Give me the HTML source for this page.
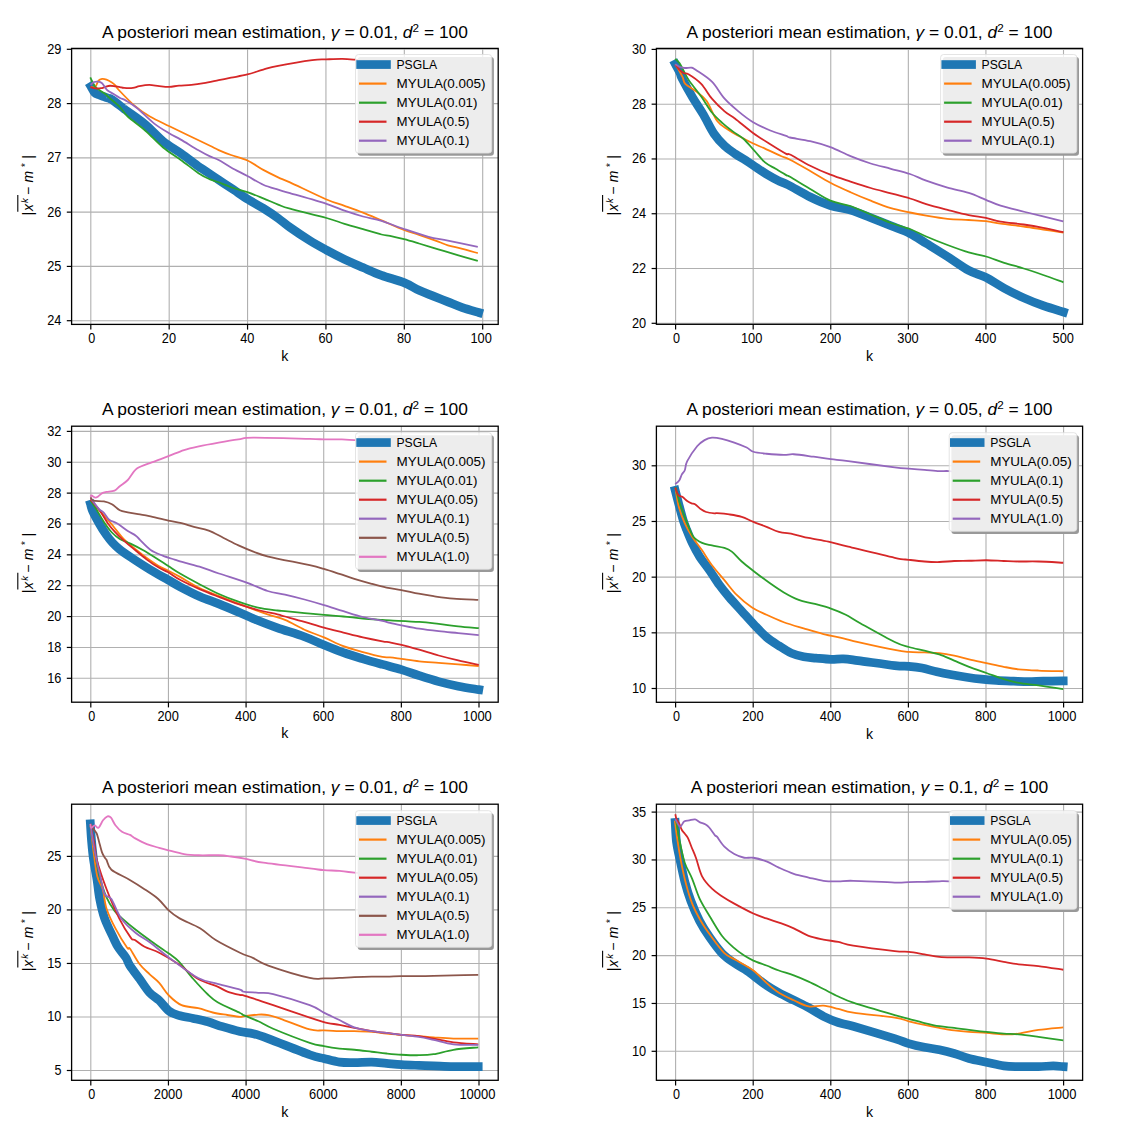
<!DOCTYPE html><html><head><meta charset="utf-8"><style>html,body{margin:0;padding:0;background:#fff;overflow:hidden;width:1140px;height:1130px;}svg text{font-family:"Liberation Sans",sans-serif;}</style></head><body><svg width="1140" height="1130" viewBox="0 0 1140 1130" style="display:block">
<rect width="1140" height="1130" fill="#fff"/>
<g font-family="'Liberation Sans', sans-serif" fill="#000">
<line x1="90.80" y1="48.4" x2="90.80" y2="324.4" stroke="#b0b0b0" stroke-width="1.1"/>
<line x1="169.18" y1="48.4" x2="169.18" y2="324.4" stroke="#b0b0b0" stroke-width="1.1"/>
<line x1="247.56" y1="48.4" x2="247.56" y2="324.4" stroke="#b0b0b0" stroke-width="1.1"/>
<line x1="325.94" y1="48.4" x2="325.94" y2="324.4" stroke="#b0b0b0" stroke-width="1.1"/>
<line x1="404.32" y1="48.4" x2="404.32" y2="324.4" stroke="#b0b0b0" stroke-width="1.1"/>
<line x1="482.70" y1="48.4" x2="482.70" y2="324.4" stroke="#b0b0b0" stroke-width="1.1"/>
<line x1="71.6" y1="320.70" x2="498.2" y2="320.70" stroke="#b0b0b0" stroke-width="1.1"/>
<line x1="71.6" y1="266.42" x2="498.2" y2="266.42" stroke="#b0b0b0" stroke-width="1.1"/>
<line x1="71.6" y1="212.14" x2="498.2" y2="212.14" stroke="#b0b0b0" stroke-width="1.1"/>
<line x1="71.6" y1="157.86" x2="498.2" y2="157.86" stroke="#b0b0b0" stroke-width="1.1"/>
<line x1="71.6" y1="103.58" x2="498.2" y2="103.58" stroke="#b0b0b0" stroke-width="1.1"/>
<line x1="71.6" y1="49.30" x2="498.2" y2="49.30" stroke="#b0b0b0" stroke-width="1.1"/>
<clipPath id="c0"><rect x="71.6" y="48.4" width="426.6" height="276.0"/></clipPath>
<g clip-path="url(#c0)" fill="none" stroke-linejoin="round">
<path d="M91.00,86.50 C91.65,87.58 93.60,91.62 94.90,93.00 C96.20,94.38 97.29,94.20 98.80,94.80 C100.31,95.40 102.08,95.91 103.96,96.59 C105.84,97.26 108.73,98.36 110.08,98.86 C111.42,99.36 109.62,97.87 112.03,99.59 C114.44,101.30 121.91,107.19 124.53,109.16 C127.14,111.13 124.22,108.85 127.70,111.40 C131.18,113.96 139.50,119.52 145.40,124.50 C151.30,129.48 157.20,136.50 163.10,141.30 C169.00,146.10 174.90,149.10 180.80,153.30 C186.70,157.50 194.67,163.74 198.50,166.50 C202.33,169.26 200.43,167.67 203.79,169.89 C207.15,172.10 213.71,176.49 218.66,179.80 C223.62,183.10 228.57,186.40 233.53,189.71 C238.48,193.01 243.44,196.52 248.40,199.62 C253.35,202.71 258.30,205.19 263.26,208.29 C268.21,211.39 273.67,215.02 278.12,218.20 C282.58,221.39 284.77,223.70 290.00,227.40 C295.23,231.10 303.42,236.62 309.50,240.40 C315.58,244.18 320.67,246.93 326.50,250.10 C332.33,253.27 338.42,256.48 344.50,259.40 C350.58,262.32 356.83,264.93 363.00,267.60 C369.17,270.27 374.67,272.90 381.50,275.40 C388.33,277.90 397.75,280.12 404.00,282.60 C410.25,285.08 414.10,288.04 419.00,290.29 C423.90,292.54 428.58,294.17 433.40,296.10 C438.22,298.03 443.07,299.97 447.90,301.90 C452.73,303.83 457.27,305.93 462.40,307.69 C467.54,309.46 475.98,311.70 478.70,312.50" stroke="#1f77b4" stroke-width="8.7" stroke-linecap="square" stroke-linejoin="round"/>
<path d="M91.00,86.80 C91.70,86.83 93.95,88.02 95.20,87.00 C96.45,85.98 97.36,82.03 98.50,80.69 C99.65,79.36 100.74,79.15 102.07,78.98 C103.40,78.82 104.83,79.11 106.47,79.69 C108.10,80.27 110.38,81.54 111.85,82.47 C113.33,83.40 114.15,84.03 115.31,85.29 C116.47,86.54 115.55,86.56 118.80,90.00 C122.05,93.44 129.62,101.48 134.80,105.90 C139.98,110.32 144.12,113.10 149.90,116.50 C155.68,119.90 162.88,123.05 169.50,126.30 C176.12,129.55 182.85,132.75 189.60,136.00 C196.35,139.25 205.16,143.46 210.00,145.80 C214.84,148.14 215.15,148.53 218.66,150.06 C222.17,151.60 226.26,153.28 231.05,155.02 C235.84,156.75 242.04,157.99 247.40,160.47 C252.77,162.95 258.14,167.08 263.26,169.89 C268.38,172.69 273.67,175.23 278.13,177.32 C282.58,179.40 281.94,178.70 290.00,182.40 C298.06,186.10 317.42,195.60 326.50,199.50 C335.58,203.40 338.42,203.62 344.50,205.80 C350.58,207.98 356.83,210.17 363.00,212.60 C369.17,215.03 374.67,217.50 381.50,220.40 C388.33,223.30 397.75,227.60 404.00,230.00 C410.25,232.40 413.28,232.87 419.00,234.80 C424.72,236.73 433.48,239.83 438.30,241.60 C443.12,243.37 443.88,244.20 447.90,245.40 C451.92,246.60 457.42,247.50 462.40,248.80 C467.38,250.10 475.23,252.47 477.80,253.20" stroke="#ff7f0e" stroke-width="1.8" stroke-linecap="butt" stroke-linejoin="round"/>
<path d="M90.30,77.40 C91.07,78.93 93.28,84.42 94.90,86.60 C96.52,88.78 98.16,89.17 100.01,90.49 C101.85,91.81 104.37,93.27 105.98,94.53 C107.58,95.79 107.38,96.00 109.64,98.03 C111.91,100.06 116.54,103.63 119.55,106.70 C122.56,109.78 123.39,112.50 127.70,116.50 C132.01,120.50 139.50,125.53 145.40,130.70 C151.30,135.87 157.20,142.63 163.10,147.50 C169.00,152.37 174.90,155.62 180.80,159.90 C186.70,164.18 193.63,169.95 198.50,173.20 C203.37,176.45 206.64,177.89 210.00,179.40 C213.36,180.91 215.15,180.97 218.66,182.27 C222.17,183.58 226.26,185.58 231.05,187.23 C235.84,188.88 242.04,190.33 247.40,192.18 C252.77,194.04 258.14,196.31 263.26,198.38 C268.38,200.44 273.67,202.85 278.13,204.57 C282.58,206.29 281.94,206.46 290.00,208.70 C298.06,210.94 317.42,215.48 326.50,218.00 C335.58,220.52 338.42,221.93 344.50,223.80 C350.58,225.67 356.83,227.42 363.00,229.20 C369.17,230.98 377.00,233.40 381.50,234.50 C386.00,235.60 386.25,235.02 390.00,235.80 C393.75,236.58 399.17,237.92 404.00,239.20 C408.83,240.48 413.28,241.82 419.00,243.50 C424.72,245.18 431.87,247.37 438.30,249.30 C444.73,251.23 451.02,253.17 457.60,255.10 C464.18,257.03 474.43,259.93 477.80,260.90" stroke="#2ca02c" stroke-width="1.8" stroke-linecap="butt" stroke-linejoin="round"/>
<path d="M90.30,87.00 C91.12,87.23 93.39,88.20 95.20,88.40 C97.01,88.60 99.56,88.45 101.17,88.23 C102.77,88.00 103.35,87.47 104.82,87.06 C106.29,86.65 108.25,85.90 110.01,85.77 C111.77,85.65 113.74,86.10 115.40,86.31 C117.06,86.53 118.54,86.78 119.99,87.05 C121.44,87.33 121.92,87.80 124.07,87.95 C126.23,88.10 130.37,88.26 132.92,87.96 C135.47,87.65 136.65,86.65 139.38,86.14 C142.10,85.63 145.98,84.90 149.29,84.90 C152.59,84.90 155.89,85.81 159.20,86.14 C162.50,86.47 165.80,86.96 169.11,86.88 C172.41,86.80 175.30,85.97 179.02,85.64 C182.74,85.31 187.28,85.31 191.41,84.90 C195.54,84.49 199.25,83.95 203.80,83.17 C208.34,82.38 214.12,81.10 218.66,80.19 C223.20,79.28 226.26,78.66 231.05,77.71 C235.84,76.76 242.04,75.86 247.40,74.49 C252.77,73.13 258.14,70.98 263.26,69.54 C268.38,68.09 269.97,67.39 278.13,65.82 C286.29,64.25 304.18,61.20 312.21,60.12 C320.24,59.05 321.38,59.59 326.33,59.38 C331.29,59.17 337.28,58.84 341.94,58.88 C346.61,58.93 346.22,58.91 354.33,59.63 C362.44,60.35 372.74,60.14 390.60,63.20 C408.46,66.26 446.18,74.87 461.50,78.00 C476.82,81.13 479.00,81.33 482.50,82.00" stroke="#d62728" stroke-width="1.8" stroke-linecap="butt" stroke-linejoin="round"/>
<path d="M90.60,84.90 C91.20,84.42 92.91,82.54 94.20,82.00 C95.49,81.46 97.10,81.51 98.36,81.68 C99.62,81.85 100.68,82.12 101.76,83.00 C102.84,83.88 103.86,85.73 104.84,86.97 C105.83,88.21 106.20,89.24 107.66,90.43 C109.12,91.62 111.54,92.84 113.60,94.10 C115.66,95.36 117.94,96.90 120.01,97.99 C122.07,99.07 123.23,98.98 126.00,100.60 C128.77,102.22 131.88,103.87 136.60,107.70 C141.32,111.53 148.82,119.32 154.30,123.60 C159.78,127.88 165.08,130.73 169.50,133.40 C173.92,136.07 175.97,136.80 180.80,139.60 C185.63,142.40 193.63,147.40 198.50,150.20 C203.37,153.00 206.64,154.77 210.00,156.40 C213.36,158.03 215.15,158.14 218.66,159.97 C222.17,161.81 226.26,164.72 231.05,167.41 C235.84,170.09 242.04,173.19 247.40,176.08 C252.77,178.97 258.14,182.48 263.26,184.75 C268.38,187.02 273.67,188.32 278.13,189.71 C282.58,191.10 281.94,190.73 290.00,193.10 C298.06,195.47 317.42,200.97 326.50,203.90 C335.58,206.83 338.42,208.60 344.50,210.70 C350.58,212.80 356.83,214.80 363.00,216.50 C369.17,218.20 374.67,218.82 381.50,220.90 C388.33,222.98 396.15,226.35 404.00,229.00 C411.85,231.65 421.28,234.87 428.60,236.80 C435.92,238.73 439.70,238.92 447.90,240.60 C456.10,242.28 472.82,245.85 477.80,246.90" stroke="#9467bd" stroke-width="1.8" stroke-linecap="butt" stroke-linejoin="round"/>
</g>
<rect x="71.6" y="48.4" width="426.6" height="276.0" fill="none" stroke="#000" stroke-width="1.3"/>
<line x1="90.80" y1="324.4" x2="90.80" y2="329.59999999999997" stroke="#000" stroke-width="1.2"/>
<text x="91.7" y="342.9" font-size="14.2" text-anchor="middle" textLength="7.0" lengthAdjust="spacingAndGlyphs">0</text>
<line x1="169.18" y1="324.4" x2="169.18" y2="329.59999999999997" stroke="#000" stroke-width="1.2"/>
<text x="168.9" y="342.9" font-size="14.2" text-anchor="middle" textLength="14.2" lengthAdjust="spacingAndGlyphs">20</text>
<line x1="247.56" y1="324.4" x2="247.56" y2="329.59999999999997" stroke="#000" stroke-width="1.2"/>
<text x="247.3" y="342.9" font-size="14.2" text-anchor="middle" textLength="14.2" lengthAdjust="spacingAndGlyphs">40</text>
<line x1="325.94" y1="324.4" x2="325.94" y2="329.59999999999997" stroke="#000" stroke-width="1.2"/>
<text x="325.6" y="342.9" font-size="14.2" text-anchor="middle" textLength="14.2" lengthAdjust="spacingAndGlyphs">60</text>
<line x1="404.32" y1="324.4" x2="404.32" y2="329.59999999999997" stroke="#000" stroke-width="1.2"/>
<text x="404.0" y="342.9" font-size="14.2" text-anchor="middle" textLength="14.2" lengthAdjust="spacingAndGlyphs">80</text>
<line x1="482.70" y1="324.4" x2="482.70" y2="329.59999999999997" stroke="#000" stroke-width="1.2"/>
<text x="481.1" y="342.9" font-size="14.2" text-anchor="middle" textLength="21.4" lengthAdjust="spacingAndGlyphs">100</text>
<line x1="66.8" y1="320.70" x2="71.6" y2="320.70" stroke="#000" stroke-width="1.2"/>
<text x="61.4" y="325.1" font-size="14.2" text-anchor="end" textLength="14.2" lengthAdjust="spacingAndGlyphs">24</text>
<line x1="66.8" y1="266.42" x2="71.6" y2="266.42" stroke="#000" stroke-width="1.2"/>
<text x="61.4" y="270.8" font-size="14.2" text-anchor="end" textLength="14.2" lengthAdjust="spacingAndGlyphs">25</text>
<line x1="66.8" y1="212.14" x2="71.6" y2="212.14" stroke="#000" stroke-width="1.2"/>
<text x="61.4" y="216.5" font-size="14.2" text-anchor="end" textLength="14.2" lengthAdjust="spacingAndGlyphs">26</text>
<line x1="66.8" y1="157.86" x2="71.6" y2="157.86" stroke="#000" stroke-width="1.2"/>
<text x="61.4" y="162.3" font-size="14.2" text-anchor="end" textLength="14.2" lengthAdjust="spacingAndGlyphs">27</text>
<line x1="66.8" y1="103.58" x2="71.6" y2="103.58" stroke="#000" stroke-width="1.2"/>
<text x="61.4" y="108.0" font-size="14.2" text-anchor="end" textLength="14.2" lengthAdjust="spacingAndGlyphs">28</text>
<line x1="66.8" y1="49.30" x2="71.6" y2="49.30" stroke="#000" stroke-width="1.2"/>
<text x="61.4" y="53.7" font-size="14.2" text-anchor="end" textLength="14.2" lengthAdjust="spacingAndGlyphs">29</text>
<text x="284.9" y="360.6" font-size="14.2" text-anchor="middle">k</text>
<text transform="translate(32.75,215.50) rotate(-90)" x="0" y="0" font-size="14">|</text>
<text transform="translate(32.75,211.10) rotate(-90)" x="0" y="0" font-size="14" font-style="italic">x</text>
<text transform="translate(28.15,203.00) rotate(-90)" x="0" y="0" font-size="9.5" font-style="italic">k</text>
<text transform="translate(32.75,194.90) rotate(-90)" x="0" y="0" font-size="14">−</text>
<text transform="translate(32.75,182.40) rotate(-90)" x="0" y="0" font-size="14" font-style="italic">m</text>
<text transform="translate(28.75,167.10) rotate(-90)" x="0" y="0" font-size="10">*</text>
<text transform="translate(32.75,158.80) rotate(-90)" x="0" y="0" font-size="14">|</text>
<line x1="17.80" y1="195.00" x2="17.80" y2="211.70" stroke="#000" stroke-width="1.1"/>
<text x="284.9" y="37.6" font-size="15.6" text-anchor="middle" textLength="366" lengthAdjust="spacingAndGlyphs">A posteriori mean estimation, <tspan font-style="italic">γ</tspan> = 0.01, <tspan font-style="italic">d</tspan><tspan font-size="10.5" dy="-6">2</tspan><tspan dy="6"> = 100</tspan></text>
<rect x="357.7" y="57.1" width="136.2" height="98.6" rx="3" fill="#999"/>
<rect x="355.5" y="54.5" width="136.2" height="98.6" rx="3" fill="#fff" fill-opacity="0.82" stroke="#ddd" stroke-width="0.8"/>
<rect x="356.3" y="60.2" width="34.5" height="8.7" fill="#1f77b4"/>
<text x="396.5" y="69.0" font-size="13.2" text-anchor="start" textLength="40.5" lengthAdjust="spacingAndGlyphs">PSGLA</text>
<line x1="359.0" y1="83.6" x2="386.5" y2="83.6" stroke="#ff7f0e" stroke-width="2.2"/>
<text x="396.5" y="88.0" font-size="13.2" text-anchor="start" textLength="89.0" lengthAdjust="spacingAndGlyphs">MYULA(0.005)</text>
<line x1="359.0" y1="102.7" x2="386.5" y2="102.7" stroke="#2ca02c" stroke-width="2.2"/>
<text x="396.5" y="107.1" font-size="13.2" text-anchor="start" textLength="81.0" lengthAdjust="spacingAndGlyphs">MYULA(0.01)</text>
<line x1="359.0" y1="121.7" x2="386.5" y2="121.7" stroke="#d62728" stroke-width="2.2"/>
<text x="396.5" y="126.1" font-size="13.2" text-anchor="start" textLength="73.0" lengthAdjust="spacingAndGlyphs">MYULA(0.5)</text>
<line x1="359.0" y1="140.7" x2="386.5" y2="140.7" stroke="#9467bd" stroke-width="2.2"/>
<text x="396.5" y="145.1" font-size="13.2" text-anchor="start" textLength="73.0" lengthAdjust="spacingAndGlyphs">MYULA(0.1)</text>
</g>
<g font-family="'Liberation Sans', sans-serif" fill="#000">
<line x1="675.60" y1="48.4" x2="675.60" y2="324.3" stroke="#b0b0b0" stroke-width="1.1"/>
<line x1="753.18" y1="48.4" x2="753.18" y2="324.3" stroke="#b0b0b0" stroke-width="1.1"/>
<line x1="830.76" y1="48.4" x2="830.76" y2="324.3" stroke="#b0b0b0" stroke-width="1.1"/>
<line x1="908.34" y1="48.4" x2="908.34" y2="324.3" stroke="#b0b0b0" stroke-width="1.1"/>
<line x1="985.92" y1="48.4" x2="985.92" y2="324.3" stroke="#b0b0b0" stroke-width="1.1"/>
<line x1="1063.50" y1="48.4" x2="1063.50" y2="324.3" stroke="#b0b0b0" stroke-width="1.1"/>
<line x1="656.4" y1="323.30" x2="1082.6" y2="323.30" stroke="#b0b0b0" stroke-width="1.1"/>
<line x1="656.4" y1="268.52" x2="1082.6" y2="268.52" stroke="#b0b0b0" stroke-width="1.1"/>
<line x1="656.4" y1="213.74" x2="1082.6" y2="213.74" stroke="#b0b0b0" stroke-width="1.1"/>
<line x1="656.4" y1="158.96" x2="1082.6" y2="158.96" stroke="#b0b0b0" stroke-width="1.1"/>
<line x1="656.4" y1="104.18" x2="1082.6" y2="104.18" stroke="#b0b0b0" stroke-width="1.1"/>
<line x1="656.4" y1="49.40" x2="1082.6" y2="49.40" stroke="#b0b0b0" stroke-width="1.1"/>
<clipPath id="c1"><rect x="656.4" y="48.4" width="426.19999999999993" height="275.90000000000003"/></clipPath>
<g clip-path="url(#c1)" fill="none" stroke-linejoin="round">
<path d="M675.30,64.00 C676.08,65.50 678.86,70.58 680.00,73.00 C681.14,75.42 679.99,74.40 682.11,78.50 C684.23,82.60 689.15,91.58 692.70,97.60 C696.25,103.62 699.85,108.58 703.40,114.60 C706.95,120.62 710.46,128.49 714.00,133.70 C717.54,138.91 721.08,142.52 724.62,145.88 C728.16,149.24 731.70,151.45 735.23,153.86 C738.75,156.27 742.24,158.02 745.78,160.32 C749.33,162.63 752.95,165.32 756.51,167.69 C760.06,170.06 763.58,172.44 767.12,174.57 C770.66,176.69 774.20,178.70 777.73,180.44 C781.26,182.18 782.89,182.24 788.30,185.00 C793.71,187.76 803.18,193.58 810.20,197.00 C817.22,200.42 823.68,203.30 830.40,205.50 C837.12,207.70 843.78,208.15 850.50,210.20 C857.22,212.25 863.97,215.20 870.70,217.80 C877.43,220.40 884.35,223.18 890.90,225.80 C897.45,228.42 904.12,230.57 910.00,233.50 C915.88,236.43 919.95,239.55 926.20,243.40 C932.45,247.25 940.42,252.10 947.50,256.60 C954.58,261.10 962.30,266.93 968.70,270.40 C975.10,273.87 979.98,274.43 985.90,277.40 C991.82,280.37 997.90,284.78 1004.20,288.20 C1010.50,291.62 1017.20,294.98 1023.70,297.90 C1030.20,300.82 1036.58,303.35 1043.20,305.70 C1049.82,308.05 1060.03,310.95 1063.40,312.00" stroke="#1f77b4" stroke-width="8.7" stroke-linecap="square" stroke-linejoin="round"/>
<path d="M675.20,64.60 C675.72,65.33 677.05,66.87 678.30,69.00 C679.55,71.13 681.53,74.93 682.70,77.40 C683.87,79.87 683.10,81.50 685.30,83.80 C687.50,86.10 692.37,88.37 695.90,91.20 C699.43,94.03 702.95,95.83 706.50,100.80 C710.05,105.77 713.65,116.22 717.20,121.00 C720.75,125.78 724.27,127.03 727.80,129.50 C731.33,131.97 734.25,133.50 738.40,135.80 C742.55,138.10 748.27,141.17 752.70,143.30 C757.13,145.43 760.30,146.48 765.00,148.60 C769.70,150.72 776.73,154.13 780.90,156.00 C785.07,157.87 785.12,157.30 790.00,159.80 C794.88,162.30 803.47,167.18 810.20,171.00 C816.93,174.82 823.68,179.17 830.40,182.70 C837.12,186.23 843.78,189.20 850.50,192.20 C857.22,195.20 863.97,198.05 870.70,200.70 C877.43,203.35 884.35,206.13 890.90,208.10 C897.45,210.07 904.12,211.23 910.00,212.50 C915.88,213.77 919.95,214.63 926.20,215.70 C932.45,216.77 940.42,218.18 947.50,218.90 C954.58,219.62 962.30,219.63 968.70,220.00 C975.10,220.37 980.58,220.48 985.90,221.10 C991.22,221.72 994.30,222.80 1000.60,223.70 C1006.90,224.60 1016.60,225.53 1023.70,226.50 C1030.80,227.47 1036.58,228.47 1043.20,229.50 C1049.82,230.53 1060.03,232.17 1063.40,232.70" stroke="#ff7f0e" stroke-width="1.8" stroke-linecap="butt" stroke-linejoin="round"/>
<path d="M675.20,58.80 C675.93,59.55 677.62,60.20 679.60,63.30 C681.58,66.40 685.27,74.17 687.10,77.40 C688.93,80.63 688.25,79.52 690.60,82.70 C692.95,85.88 697.65,91.53 701.20,96.50 C704.75,101.47 708.35,108.07 711.90,112.50 C715.45,116.93 718.97,119.92 722.50,123.10 C726.03,126.28 729.57,128.95 733.10,131.60 C736.63,134.25 740.17,135.82 743.70,139.00 C747.23,142.18 750.75,146.80 754.30,150.70 C757.85,154.60 761.45,159.38 765.00,162.40 C768.55,165.42 772.07,166.68 775.60,168.80 C779.13,170.92 783.80,173.77 786.20,175.10 C788.60,176.43 786.00,174.48 790.00,176.80 C794.00,179.12 803.47,185.02 810.20,189.00 C816.93,192.98 823.68,197.87 830.40,200.70 C837.12,203.53 843.78,203.70 850.50,206.00 C857.22,208.30 863.97,211.67 870.70,214.50 C877.43,217.33 884.35,220.58 890.90,223.00 C897.45,225.42 904.12,226.75 910.00,229.00 C915.88,231.25 919.95,233.83 926.20,236.50 C932.45,239.17 940.42,242.35 947.50,245.00 C954.58,247.65 962.30,250.48 968.70,252.40 C975.10,254.32 979.98,254.77 985.90,256.50 C991.82,258.23 997.90,260.80 1004.20,262.80 C1010.50,264.80 1017.20,266.47 1023.70,268.50 C1030.20,270.53 1036.58,272.70 1043.20,275.00 C1049.82,277.30 1060.03,281.08 1063.40,282.30" stroke="#2ca02c" stroke-width="1.8" stroke-linecap="butt" stroke-linejoin="round"/>
<path d="M675.20,64.60 C675.93,65.48 678.18,68.46 679.60,69.90 C681.02,71.34 682.24,72.52 683.72,73.24 C685.20,73.96 685.59,72.44 688.50,74.20 C691.41,75.96 697.30,79.72 701.20,83.80 C705.10,87.88 708.00,94.10 711.90,98.70 C715.80,103.30 720.72,108.05 724.60,111.40 C728.48,114.75 730.52,115.25 735.20,118.80 C739.88,122.35 746.85,128.45 752.70,132.70 C758.55,136.95 764.72,140.77 770.30,144.30 C775.88,147.83 782.92,152.20 786.20,153.90 C789.48,155.60 786.00,152.53 790.00,154.50 C794.00,156.47 803.47,162.33 810.20,165.70 C816.93,169.07 823.68,172.05 830.40,174.70 C837.12,177.35 843.78,179.38 850.50,181.60 C857.22,183.82 863.97,186.05 870.70,188.00 C877.43,189.95 884.35,191.55 890.90,193.30 C897.45,195.05 904.12,196.70 910.00,198.50 C915.88,200.30 919.95,202.20 926.20,204.10 C932.45,206.00 940.42,208.05 947.50,209.90 C954.58,211.75 962.30,213.87 968.70,215.20 C975.10,216.53 980.58,216.83 985.90,217.90 C991.22,218.97 994.30,220.50 1000.60,221.60 C1006.90,222.70 1016.60,223.47 1023.70,224.50 C1030.80,225.53 1036.58,226.52 1043.20,227.80 C1049.82,229.08 1060.03,231.47 1063.40,232.20" stroke="#d62728" stroke-width="1.8" stroke-linecap="butt" stroke-linejoin="round"/>
<path d="M675.20,64.20 C675.93,64.63 677.98,66.16 679.60,66.80 C681.22,67.44 682.93,67.87 684.91,68.01 C686.88,68.16 689.63,67.34 691.46,67.67 C693.30,68.00 692.49,67.66 695.90,70.00 C699.31,72.34 707.12,76.92 711.90,81.70 C716.68,86.48 720.18,93.75 724.60,98.70 C729.02,103.65 733.72,107.52 738.40,111.40 C743.08,115.28 747.38,118.82 752.70,122.00 C758.02,125.18 764.72,128.20 770.30,130.50 C775.88,132.80 782.92,134.63 786.20,135.80 C789.48,136.97 786.00,136.60 790.00,137.50 C794.00,138.40 803.47,139.60 810.20,141.20 C816.93,142.80 823.68,144.62 830.40,147.10 C837.12,149.58 843.78,153.37 850.50,156.10 C857.22,158.83 863.97,161.38 870.70,163.50 C877.43,165.62 884.35,167.05 890.90,168.80 C897.45,170.55 904.12,172.02 910.00,174.00 C915.88,175.98 919.95,178.43 926.20,180.70 C932.45,182.97 940.42,185.57 947.50,187.60 C954.58,189.63 962.30,190.87 968.70,192.90 C975.10,194.93 980.58,197.67 985.90,199.80 C991.22,201.93 994.08,203.67 1000.60,205.70 C1007.12,207.73 1014.57,209.38 1025.00,212.00 C1035.43,214.62 1056.83,219.83 1063.20,221.40" stroke="#9467bd" stroke-width="1.8" stroke-linecap="butt" stroke-linejoin="round"/>
</g>
<rect x="656.4" y="48.4" width="426.2" height="275.9" fill="none" stroke="#000" stroke-width="1.3"/>
<line x1="675.60" y1="324.3" x2="675.60" y2="329.5" stroke="#000" stroke-width="1.2"/>
<text x="676.5" y="342.8" font-size="14.2" text-anchor="middle" textLength="7.0" lengthAdjust="spacingAndGlyphs">0</text>
<line x1="753.18" y1="324.3" x2="753.18" y2="329.5" stroke="#000" stroke-width="1.2"/>
<text x="751.6" y="342.8" font-size="14.2" text-anchor="middle" textLength="21.4" lengthAdjust="spacingAndGlyphs">100</text>
<line x1="830.76" y1="324.3" x2="830.76" y2="329.5" stroke="#000" stroke-width="1.2"/>
<text x="830.5" y="342.8" font-size="14.2" text-anchor="middle" textLength="21.4" lengthAdjust="spacingAndGlyphs">200</text>
<line x1="908.34" y1="324.3" x2="908.34" y2="329.5" stroke="#000" stroke-width="1.2"/>
<text x="908.0" y="342.8" font-size="14.2" text-anchor="middle" textLength="21.4" lengthAdjust="spacingAndGlyphs">300</text>
<line x1="985.92" y1="324.3" x2="985.92" y2="329.5" stroke="#000" stroke-width="1.2"/>
<text x="985.6" y="342.8" font-size="14.2" text-anchor="middle" textLength="21.4" lengthAdjust="spacingAndGlyphs">400</text>
<line x1="1063.50" y1="324.3" x2="1063.50" y2="329.5" stroke="#000" stroke-width="1.2"/>
<text x="1063.2" y="342.8" font-size="14.2" text-anchor="middle" textLength="21.4" lengthAdjust="spacingAndGlyphs">500</text>
<line x1="651.6" y1="323.30" x2="656.4" y2="323.30" stroke="#000" stroke-width="1.2"/>
<text x="646.2" y="327.7" font-size="14.2" text-anchor="end" textLength="14.2" lengthAdjust="spacingAndGlyphs">20</text>
<line x1="651.6" y1="268.52" x2="656.4" y2="268.52" stroke="#000" stroke-width="1.2"/>
<text x="646.2" y="272.9" font-size="14.2" text-anchor="end" textLength="14.2" lengthAdjust="spacingAndGlyphs">22</text>
<line x1="651.6" y1="213.74" x2="656.4" y2="213.74" stroke="#000" stroke-width="1.2"/>
<text x="646.2" y="218.1" font-size="14.2" text-anchor="end" textLength="14.2" lengthAdjust="spacingAndGlyphs">24</text>
<line x1="651.6" y1="158.96" x2="656.4" y2="158.96" stroke="#000" stroke-width="1.2"/>
<text x="646.2" y="163.4" font-size="14.2" text-anchor="end" textLength="14.2" lengthAdjust="spacingAndGlyphs">26</text>
<line x1="651.6" y1="104.18" x2="656.4" y2="104.18" stroke="#000" stroke-width="1.2"/>
<text x="646.2" y="108.6" font-size="14.2" text-anchor="end" textLength="14.2" lengthAdjust="spacingAndGlyphs">28</text>
<line x1="651.6" y1="49.40" x2="656.4" y2="49.40" stroke="#000" stroke-width="1.2"/>
<text x="646.2" y="53.8" font-size="14.2" text-anchor="end" textLength="14.2" lengthAdjust="spacingAndGlyphs">30</text>
<text x="869.5" y="360.5" font-size="14.2" text-anchor="middle">k</text>
<text transform="translate(617.55,215.45) rotate(-90)" x="0" y="0" font-size="14">|</text>
<text transform="translate(617.55,211.05) rotate(-90)" x="0" y="0" font-size="14" font-style="italic">x</text>
<text transform="translate(612.95,202.95) rotate(-90)" x="0" y="0" font-size="9.5" font-style="italic">k</text>
<text transform="translate(617.55,194.85) rotate(-90)" x="0" y="0" font-size="14">−</text>
<text transform="translate(617.55,182.35) rotate(-90)" x="0" y="0" font-size="14" font-style="italic">m</text>
<text transform="translate(613.55,167.05) rotate(-90)" x="0" y="0" font-size="10">*</text>
<text transform="translate(617.55,158.75) rotate(-90)" x="0" y="0" font-size="14">|</text>
<line x1="602.60" y1="194.95" x2="602.60" y2="211.65" stroke="#000" stroke-width="1.1"/>
<text x="869.5" y="37.6" font-size="15.6" text-anchor="middle" textLength="366" lengthAdjust="spacingAndGlyphs">A posteriori mean estimation, <tspan font-style="italic">γ</tspan> = 0.01, <tspan font-style="italic">d</tspan><tspan font-size="10.5" dy="-6">2</tspan><tspan dy="6"> = 100</tspan></text>
<rect x="942.8" y="57.1" width="136.2" height="98.6" rx="3" fill="#999"/>
<rect x="940.6" y="54.5" width="136.2" height="98.6" rx="3" fill="#fff" fill-opacity="0.82" stroke="#ddd" stroke-width="0.8"/>
<rect x="941.4" y="60.2" width="34.5" height="8.7" fill="#1f77b4"/>
<text x="981.6" y="69.0" font-size="13.2" text-anchor="start" textLength="40.5" lengthAdjust="spacingAndGlyphs">PSGLA</text>
<line x1="944.1" y1="83.6" x2="971.6" y2="83.6" stroke="#ff7f0e" stroke-width="2.2"/>
<text x="981.6" y="88.0" font-size="13.2" text-anchor="start" textLength="89.0" lengthAdjust="spacingAndGlyphs">MYULA(0.005)</text>
<line x1="944.1" y1="102.7" x2="971.6" y2="102.7" stroke="#2ca02c" stroke-width="2.2"/>
<text x="981.6" y="107.1" font-size="13.2" text-anchor="start" textLength="81.0" lengthAdjust="spacingAndGlyphs">MYULA(0.01)</text>
<line x1="944.1" y1="121.7" x2="971.6" y2="121.7" stroke="#d62728" stroke-width="2.2"/>
<text x="981.6" y="126.1" font-size="13.2" text-anchor="start" textLength="73.0" lengthAdjust="spacingAndGlyphs">MYULA(0.5)</text>
<line x1="944.1" y1="140.7" x2="971.6" y2="140.7" stroke="#9467bd" stroke-width="2.2"/>
<text x="981.6" y="145.1" font-size="13.2" text-anchor="start" textLength="73.0" lengthAdjust="spacingAndGlyphs">MYULA(0.1)</text>
</g>
<g font-family="'Liberation Sans', sans-serif" fill="#000">
<line x1="90.80" y1="426.2" x2="90.80" y2="702.2" stroke="#b0b0b0" stroke-width="1.1"/>
<line x1="168.44" y1="426.2" x2="168.44" y2="702.2" stroke="#b0b0b0" stroke-width="1.1"/>
<line x1="246.08" y1="426.2" x2="246.08" y2="702.2" stroke="#b0b0b0" stroke-width="1.1"/>
<line x1="323.72" y1="426.2" x2="323.72" y2="702.2" stroke="#b0b0b0" stroke-width="1.1"/>
<line x1="401.36" y1="426.2" x2="401.36" y2="702.2" stroke="#b0b0b0" stroke-width="1.1"/>
<line x1="479.00" y1="426.2" x2="479.00" y2="702.2" stroke="#b0b0b0" stroke-width="1.1"/>
<line x1="71.6" y1="678.30" x2="498.2" y2="678.30" stroke="#b0b0b0" stroke-width="1.1"/>
<line x1="71.6" y1="647.44" x2="498.2" y2="647.44" stroke="#b0b0b0" stroke-width="1.1"/>
<line x1="71.6" y1="616.57" x2="498.2" y2="616.57" stroke="#b0b0b0" stroke-width="1.1"/>
<line x1="71.6" y1="585.71" x2="498.2" y2="585.71" stroke="#b0b0b0" stroke-width="1.1"/>
<line x1="71.6" y1="554.85" x2="498.2" y2="554.85" stroke="#b0b0b0" stroke-width="1.1"/>
<line x1="71.6" y1="523.99" x2="498.2" y2="523.99" stroke="#b0b0b0" stroke-width="1.1"/>
<line x1="71.6" y1="493.12" x2="498.2" y2="493.12" stroke="#b0b0b0" stroke-width="1.1"/>
<line x1="71.6" y1="462.26" x2="498.2" y2="462.26" stroke="#b0b0b0" stroke-width="1.1"/>
<line x1="71.6" y1="431.40" x2="498.2" y2="431.40" stroke="#b0b0b0" stroke-width="1.1"/>
<clipPath id="c2"><rect x="71.6" y="426.2" width="426.6" height="276.00000000000006"/></clipPath>
<g clip-path="url(#c2)" fill="none" stroke-linejoin="round">
<path d="M90.60,504.30 C90.95,505.45 91.22,507.92 92.70,511.20 C94.18,514.48 97.22,520.06 99.49,524.01 C101.76,527.95 104.15,531.78 106.31,534.88 C108.47,537.97 110.28,540.22 112.45,542.58 C114.61,544.94 116.25,546.58 119.30,549.03 C122.36,551.48 126.86,554.58 130.78,557.27 C134.70,559.96 138.79,562.60 142.82,565.16 C146.86,567.72 150.77,570.16 154.97,572.61 C159.18,575.07 163.87,577.55 168.07,579.91 C172.28,582.27 174.92,584.01 180.18,586.78 C185.45,589.54 193.23,593.65 199.67,596.50 C206.11,599.35 212.37,601.30 218.82,603.89 C225.28,606.49 231.85,609.28 238.38,612.05 C244.90,614.82 251.46,617.88 257.97,620.52 C264.48,623.16 269.70,625.18 277.44,627.89 C285.18,630.59 296.64,633.87 304.41,636.74 C312.18,639.60 317.53,642.42 324.05,645.09 C330.56,647.75 337.02,650.43 343.50,652.72 C349.97,655.02 356.42,656.91 362.91,658.86 C369.40,660.82 376.04,662.65 382.44,664.43 C388.85,666.21 395.22,667.67 401.36,669.55 C407.50,671.42 413.05,673.66 419.28,675.67 C425.51,677.67 432.26,679.84 438.76,681.59 C445.25,683.34 451.58,684.81 458.25,686.15 C464.92,687.48 475.37,689.02 478.80,689.60" stroke="#1f77b4" stroke-width="8.7" stroke-linecap="square" stroke-linejoin="round"/>
<path d="M90.60,499.60 C92.20,501.53 97.02,507.48 100.20,511.20 C103.38,514.92 107.05,518.80 109.70,521.90 C112.35,525.00 113.53,526.70 116.10,529.80 C118.67,532.90 121.82,537.22 125.10,540.50 C128.38,543.78 132.18,546.58 135.80,549.50 C139.42,552.42 142.98,555.25 146.80,558.00 C150.62,560.75 155.12,563.88 158.70,566.00 C162.28,568.12 164.75,568.88 168.30,570.70 C171.85,572.52 174.80,574.02 180.00,576.90 C185.20,579.78 193.02,584.82 199.50,588.00 C205.98,591.18 212.42,593.38 218.90,596.00 C225.38,598.62 230.28,600.63 238.40,603.70 C246.52,606.77 259.83,611.70 267.60,614.40 C275.37,617.10 278.85,617.35 285.00,619.90 C291.15,622.45 298.00,626.78 304.50,629.70 C311.00,632.62 317.52,634.65 324.00,637.40 C330.48,640.15 336.92,643.75 343.40,646.20 C349.88,648.65 356.40,650.32 362.90,652.10 C369.40,653.88 377.88,656.02 382.40,656.90 C386.92,657.78 386.82,657.07 390.00,657.40 C393.18,657.73 396.63,658.25 401.50,658.90 C406.37,659.55 413.00,660.65 419.20,661.30 C425.40,661.95 432.20,662.30 438.70,662.80 C445.20,663.30 451.52,663.73 458.20,664.30 C464.88,664.87 475.37,665.88 478.80,666.20" stroke="#ff7f0e" stroke-width="1.8" stroke-linecap="butt" stroke-linejoin="round"/>
<path d="M90.60,500.60 C91.48,501.93 93.68,505.05 95.90,508.60 C98.12,512.15 101.23,517.92 103.90,521.90 C106.57,525.88 109.25,529.67 111.90,532.50 C114.55,535.33 116.70,537.05 119.80,538.90 C122.90,540.75 126.67,541.75 130.50,543.60 C134.33,545.45 138.77,547.73 142.80,550.00 C146.83,552.27 150.45,554.53 154.70,557.20 C158.95,559.87 164.08,563.28 168.30,566.00 C172.52,568.72 174.80,570.47 180.00,573.50 C185.20,576.53 193.02,580.78 199.50,584.20 C205.98,587.62 212.42,591.08 218.90,594.00 C225.38,596.92 231.90,599.43 238.40,601.70 C244.90,603.97 251.40,606.13 257.90,607.60 C264.40,609.07 272.88,609.90 277.40,610.50 C281.92,611.10 280.48,610.77 285.00,611.20 C289.52,611.63 298.00,612.48 304.50,613.10 C311.00,613.72 317.52,614.33 324.00,614.90 C330.48,615.47 336.92,615.90 343.40,616.50 C349.88,617.10 356.40,617.93 362.90,618.50 C369.40,619.07 377.88,619.58 382.40,619.90 C386.92,620.22 383.87,620.07 390.00,620.40 C396.13,620.73 411.08,621.32 419.20,621.90 C427.32,622.48 432.20,623.17 438.70,623.90 C445.20,624.63 451.52,625.58 458.20,626.30 C464.88,627.02 475.37,627.88 478.80,628.20" stroke="#2ca02c" stroke-width="1.8" stroke-linecap="butt" stroke-linejoin="round"/>
<path d="M90.60,499.60 C92.20,501.53 97.37,507.32 100.20,511.20 C103.03,515.08 105.22,519.53 107.60,522.90 C109.98,526.27 112.02,528.65 114.50,531.40 C116.98,534.15 119.40,536.57 122.50,539.40 C125.60,542.23 129.05,545.03 133.10,548.40 C137.15,551.77 142.53,556.40 146.80,559.60 C151.07,562.80 155.12,565.48 158.70,567.60 C162.28,569.72 164.75,570.27 168.30,572.30 C171.85,574.33 174.80,577.00 180.00,579.80 C185.20,582.60 193.02,586.25 199.50,589.10 C205.98,591.95 212.42,594.38 218.90,596.90 C225.38,599.42 231.90,602.02 238.40,604.20 C244.90,606.38 251.40,608.30 257.90,610.00 C264.40,611.70 272.88,613.32 277.40,614.40 C281.92,615.48 280.48,615.25 285.00,616.50 C289.52,617.75 298.00,620.03 304.50,621.90 C311.00,623.77 317.52,625.92 324.00,627.70 C330.48,629.48 336.92,630.98 343.40,632.60 C349.88,634.22 356.40,635.95 362.90,637.40 C369.40,638.85 377.88,640.47 382.40,641.30 C386.92,642.13 386.82,641.82 390.00,642.40 C393.18,642.98 396.63,643.58 401.50,644.80 C406.37,646.02 413.00,647.92 419.20,649.70 C425.40,651.48 432.20,653.72 438.70,655.50 C445.20,657.28 451.52,658.85 458.20,660.40 C464.88,661.95 475.37,664.07 478.80,664.80" stroke="#d62728" stroke-width="1.8" stroke-linecap="butt" stroke-linejoin="round"/>
<path d="M90.60,498.00 C91.93,499.77 96.38,506.13 98.60,508.60 C100.82,511.07 102.13,510.96 103.89,512.81 C105.66,514.66 106.99,517.91 109.21,519.69 C111.42,521.48 114.10,521.63 117.20,523.50 C120.30,525.37 124.70,528.87 127.80,530.90 C130.90,532.93 133.76,534.20 135.80,535.70 C137.83,537.20 137.52,537.52 140.00,539.90 C142.48,542.28 146.92,547.38 150.70,550.00 C154.48,552.62 158.72,554.00 162.70,555.60 C166.68,557.20 171.72,558.65 174.60,559.60 C177.48,560.55 175.85,560.12 180.00,561.30 C184.15,562.48 193.02,564.67 199.50,566.70 C205.98,568.73 211.15,570.90 218.90,573.50 C226.65,576.10 237.88,579.38 246.00,582.30 C254.12,585.22 261.10,588.95 267.60,591.00 C274.10,593.05 278.85,593.18 285.00,594.60 C291.15,596.02 298.00,597.75 304.50,599.50 C311.00,601.25 317.52,603.15 324.00,605.10 C330.48,607.05 336.92,609.22 343.40,611.20 C349.88,613.18 356.40,615.38 362.90,617.00 C369.40,618.62 377.88,619.92 382.40,620.90 C386.92,621.88 386.82,622.17 390.00,622.90 C393.18,623.63 396.63,624.33 401.50,625.30 C406.37,626.27 413.00,627.72 419.20,628.70 C425.40,629.68 432.20,630.47 438.70,631.20 C445.20,631.93 451.52,632.45 458.20,633.10 C464.88,633.75 475.37,634.77 478.80,635.10" stroke="#9467bd" stroke-width="1.8" stroke-linecap="butt" stroke-linejoin="round"/>
<path d="M90.60,497.30 C91.05,497.85 91.08,499.92 93.30,500.60 C95.52,501.28 100.80,500.78 103.90,501.40 C107.00,502.02 109.25,502.84 111.90,504.30 C114.55,505.77 117.15,508.86 119.80,510.20 C122.45,511.53 124.43,511.60 127.80,512.30 C131.17,513.00 136.42,513.75 140.00,514.40 C143.58,515.05 144.56,515.13 149.29,516.17 C154.01,517.21 163.00,519.47 168.36,520.63 C173.73,521.79 177.24,522.08 181.50,523.11 C185.75,524.14 189.34,525.59 193.89,526.82 C198.43,528.06 203.80,528.68 208.75,530.54 C213.71,532.40 218.66,535.50 223.62,537.97 C228.57,540.45 233.53,543.14 238.48,545.41 C243.44,547.68 248.39,549.74 253.35,551.60 C258.31,553.46 258.82,554.29 268.22,556.56 C277.61,558.83 300.46,563.16 309.73,565.23 C319.01,567.29 318.90,567.50 323.86,568.95 C328.81,570.39 334.39,572.25 339.46,573.90 C344.54,575.55 348.96,577.20 354.33,578.86 C359.70,580.51 366.31,582.37 371.67,583.81 C377.04,585.26 381.59,586.50 386.54,587.53 C391.50,588.56 396.04,588.97 401.41,590.01 C406.78,591.04 413.38,592.69 418.75,593.72 C424.12,594.75 427.84,595.37 433.62,596.20 C439.40,597.03 446.01,598.06 453.44,598.68 C460.87,599.30 474.09,599.71 478.22,599.92" stroke="#8c564b" stroke-width="1.8" stroke-linecap="butt" stroke-linejoin="round"/>
<path d="M90.40,496.80 C90.58,496.58 90.65,495.35 91.50,495.50 C92.35,495.65 94.34,497.59 95.50,497.70 C96.66,497.81 97.33,496.94 98.45,496.18 C99.58,495.41 100.92,493.82 102.27,493.10 C103.61,492.39 104.46,492.33 106.50,491.90 C108.54,491.48 112.27,491.52 114.49,490.57 C116.70,489.62 117.58,487.96 119.80,486.20 C122.02,484.44 124.95,482.93 127.80,480.00 C130.65,477.07 132.90,471.53 136.90,468.60 C140.89,465.67 146.52,464.47 151.76,462.40 C157.01,460.34 163.00,458.27 168.36,456.21 C173.73,454.15 178.89,451.67 183.97,450.02 C189.05,448.36 193.06,447.54 198.84,446.30 C204.62,445.06 212.05,443.74 218.66,442.58 C225.27,441.43 232.70,440.19 238.48,439.36 C244.26,438.54 241.48,437.71 253.35,437.63 C265.22,437.54 297.98,438.58 309.73,438.87 C321.48,439.16 318.90,439.28 323.86,439.36 C328.81,439.44 334.39,439.24 339.46,439.36 C344.54,439.49 339.46,439.16 354.33,440.11 C369.20,441.05 408.01,443.95 428.66,445.06 C449.31,446.18 469.96,446.51 478.22,446.79" stroke="#e377c2" stroke-width="1.8" stroke-linecap="butt" stroke-linejoin="round"/>
</g>
<rect x="71.6" y="426.2" width="426.6" height="276.0" fill="none" stroke="#000" stroke-width="1.3"/>
<line x1="90.80" y1="702.2" x2="90.80" y2="707.4000000000001" stroke="#000" stroke-width="1.2"/>
<text x="91.7" y="720.7" font-size="14.2" text-anchor="middle" textLength="7.0" lengthAdjust="spacingAndGlyphs">0</text>
<line x1="168.44" y1="702.2" x2="168.44" y2="707.4000000000001" stroke="#000" stroke-width="1.2"/>
<text x="168.1" y="720.7" font-size="14.2" text-anchor="middle" textLength="21.4" lengthAdjust="spacingAndGlyphs">200</text>
<line x1="246.08" y1="702.2" x2="246.08" y2="707.4000000000001" stroke="#000" stroke-width="1.2"/>
<text x="245.8" y="720.7" font-size="14.2" text-anchor="middle" textLength="21.4" lengthAdjust="spacingAndGlyphs">400</text>
<line x1="323.72" y1="702.2" x2="323.72" y2="707.4000000000001" stroke="#000" stroke-width="1.2"/>
<text x="323.4" y="720.7" font-size="14.2" text-anchor="middle" textLength="21.4" lengthAdjust="spacingAndGlyphs">600</text>
<line x1="401.36" y1="702.2" x2="401.36" y2="707.4000000000001" stroke="#000" stroke-width="1.2"/>
<text x="401.1" y="720.7" font-size="14.2" text-anchor="middle" textLength="21.4" lengthAdjust="spacingAndGlyphs">800</text>
<line x1="479.00" y1="702.2" x2="479.00" y2="707.4000000000001" stroke="#000" stroke-width="1.2"/>
<text x="477.4" y="720.7" font-size="14.2" text-anchor="middle" textLength="28.7" lengthAdjust="spacingAndGlyphs">1000</text>
<line x1="66.8" y1="678.30" x2="71.6" y2="678.30" stroke="#000" stroke-width="1.2"/>
<text x="61.4" y="682.7" font-size="14.2" text-anchor="end" textLength="14.2" lengthAdjust="spacingAndGlyphs">16</text>
<line x1="66.8" y1="647.44" x2="71.6" y2="647.44" stroke="#000" stroke-width="1.2"/>
<text x="61.4" y="651.8" font-size="14.2" text-anchor="end" textLength="14.2" lengthAdjust="spacingAndGlyphs">18</text>
<line x1="66.8" y1="616.57" x2="71.6" y2="616.57" stroke="#000" stroke-width="1.2"/>
<text x="61.4" y="621.0" font-size="14.2" text-anchor="end" textLength="14.2" lengthAdjust="spacingAndGlyphs">20</text>
<line x1="66.8" y1="585.71" x2="71.6" y2="585.71" stroke="#000" stroke-width="1.2"/>
<text x="61.4" y="590.1" font-size="14.2" text-anchor="end" textLength="14.2" lengthAdjust="spacingAndGlyphs">22</text>
<line x1="66.8" y1="554.85" x2="71.6" y2="554.85" stroke="#000" stroke-width="1.2"/>
<text x="61.4" y="559.2" font-size="14.2" text-anchor="end" textLength="14.2" lengthAdjust="spacingAndGlyphs">24</text>
<line x1="66.8" y1="523.99" x2="71.6" y2="523.99" stroke="#000" stroke-width="1.2"/>
<text x="61.4" y="528.4" font-size="14.2" text-anchor="end" textLength="14.2" lengthAdjust="spacingAndGlyphs">26</text>
<line x1="66.8" y1="493.12" x2="71.6" y2="493.12" stroke="#000" stroke-width="1.2"/>
<text x="61.4" y="497.5" font-size="14.2" text-anchor="end" textLength="14.2" lengthAdjust="spacingAndGlyphs">28</text>
<line x1="66.8" y1="462.26" x2="71.6" y2="462.26" stroke="#000" stroke-width="1.2"/>
<text x="61.4" y="466.7" font-size="14.2" text-anchor="end" textLength="14.2" lengthAdjust="spacingAndGlyphs">30</text>
<line x1="66.8" y1="431.40" x2="71.6" y2="431.40" stroke="#000" stroke-width="1.2"/>
<text x="61.4" y="435.8" font-size="14.2" text-anchor="end" textLength="14.2" lengthAdjust="spacingAndGlyphs">32</text>
<text x="284.9" y="738.4" font-size="14.2" text-anchor="middle">k</text>
<text transform="translate(32.75,593.30) rotate(-90)" x="0" y="0" font-size="14">|</text>
<text transform="translate(32.75,588.90) rotate(-90)" x="0" y="0" font-size="14" font-style="italic">x</text>
<text transform="translate(28.15,580.80) rotate(-90)" x="0" y="0" font-size="9.5" font-style="italic">k</text>
<text transform="translate(32.75,572.70) rotate(-90)" x="0" y="0" font-size="14">−</text>
<text transform="translate(32.75,560.20) rotate(-90)" x="0" y="0" font-size="14" font-style="italic">m</text>
<text transform="translate(28.75,544.90) rotate(-90)" x="0" y="0" font-size="10">*</text>
<text transform="translate(32.75,536.60) rotate(-90)" x="0" y="0" font-size="14">|</text>
<line x1="17.80" y1="572.80" x2="17.80" y2="589.50" stroke="#000" stroke-width="1.1"/>
<text x="284.9" y="415.4" font-size="15.6" text-anchor="middle" textLength="366" lengthAdjust="spacingAndGlyphs">A posteriori mean estimation, <tspan font-style="italic">γ</tspan> = 0.01, <tspan font-style="italic">d</tspan><tspan font-size="10.5" dy="-6">2</tspan><tspan dy="6"> = 100</tspan></text>
<rect x="357.7" y="435.3" width="136.2" height="136.6" rx="3" fill="#999"/>
<rect x="355.5" y="432.7" width="136.2" height="136.6" rx="3" fill="#fff" fill-opacity="0.82" stroke="#ddd" stroke-width="0.8"/>
<rect x="356.3" y="438.2" width="34.5" height="8.7" fill="#1f77b4"/>
<text x="396.5" y="447.0" font-size="13.2" text-anchor="start" textLength="40.5" lengthAdjust="spacingAndGlyphs">PSGLA</text>
<line x1="359.0" y1="461.6" x2="386.5" y2="461.6" stroke="#ff7f0e" stroke-width="2.2"/>
<text x="396.5" y="466.0" font-size="13.2" text-anchor="start" textLength="89.0" lengthAdjust="spacingAndGlyphs">MYULA(0.005)</text>
<line x1="359.0" y1="480.7" x2="386.5" y2="480.7" stroke="#2ca02c" stroke-width="2.2"/>
<text x="396.5" y="485.1" font-size="13.2" text-anchor="start" textLength="81.0" lengthAdjust="spacingAndGlyphs">MYULA(0.01)</text>
<line x1="359.0" y1="499.7" x2="386.5" y2="499.7" stroke="#d62728" stroke-width="2.2"/>
<text x="396.5" y="504.1" font-size="13.2" text-anchor="start" textLength="81.5" lengthAdjust="spacingAndGlyphs">MYULA(0.05)</text>
<line x1="359.0" y1="518.7" x2="386.5" y2="518.7" stroke="#9467bd" stroke-width="2.2"/>
<text x="396.5" y="523.1" font-size="13.2" text-anchor="start" textLength="73.0" lengthAdjust="spacingAndGlyphs">MYULA(0.1)</text>
<line x1="359.0" y1="537.8" x2="386.5" y2="537.8" stroke="#8c564b" stroke-width="2.2"/>
<text x="396.5" y="542.1" font-size="13.2" text-anchor="start" textLength="73.0" lengthAdjust="spacingAndGlyphs">MYULA(0.5)</text>
<line x1="359.0" y1="556.8" x2="386.5" y2="556.8" stroke="#e377c2" stroke-width="2.2"/>
<text x="396.5" y="561.2" font-size="13.2" text-anchor="start" textLength="73.0" lengthAdjust="spacingAndGlyphs">MYULA(1.0)</text>
</g>
<g font-family="'Liberation Sans', sans-serif" fill="#000">
<line x1="675.60" y1="426.2" x2="675.60" y2="702.3" stroke="#b0b0b0" stroke-width="1.1"/>
<line x1="753.20" y1="426.2" x2="753.20" y2="702.3" stroke="#b0b0b0" stroke-width="1.1"/>
<line x1="830.80" y1="426.2" x2="830.80" y2="702.3" stroke="#b0b0b0" stroke-width="1.1"/>
<line x1="908.40" y1="426.2" x2="908.40" y2="702.3" stroke="#b0b0b0" stroke-width="1.1"/>
<line x1="986.00" y1="426.2" x2="986.00" y2="702.3" stroke="#b0b0b0" stroke-width="1.1"/>
<line x1="1063.60" y1="426.2" x2="1063.60" y2="702.3" stroke="#b0b0b0" stroke-width="1.1"/>
<line x1="656.4" y1="688.50" x2="1082.6" y2="688.50" stroke="#b0b0b0" stroke-width="1.1"/>
<line x1="656.4" y1="632.83" x2="1082.6" y2="632.83" stroke="#b0b0b0" stroke-width="1.1"/>
<line x1="656.4" y1="577.15" x2="1082.6" y2="577.15" stroke="#b0b0b0" stroke-width="1.1"/>
<line x1="656.4" y1="521.48" x2="1082.6" y2="521.48" stroke="#b0b0b0" stroke-width="1.1"/>
<line x1="656.4" y1="465.80" x2="1082.6" y2="465.80" stroke="#b0b0b0" stroke-width="1.1"/>
<clipPath id="c3"><rect x="656.4" y="426.2" width="426.19999999999993" height="276.09999999999997"/></clipPath>
<g clip-path="url(#c3)" fill="none" stroke-linejoin="round">
<path d="M675.20,490.30 C675.83,492.75 677.68,500.05 679.00,505.00 C680.32,509.95 681.96,516.15 683.12,519.99 C684.28,523.84 684.47,524.24 685.98,528.06 C687.49,531.88 689.90,538.18 692.18,542.92 C694.45,547.67 696.72,552.01 699.61,556.55 C702.50,561.09 706.21,565.44 709.51,570.19 C712.81,574.93 716.12,580.51 719.42,585.05 C722.73,589.59 725.62,593.10 729.33,597.44 C733.05,601.77 737.59,606.52 741.72,611.07 C745.85,615.61 749.98,620.36 754.11,624.69 C758.24,629.03 762.37,633.57 766.50,637.07 C770.63,640.58 774.76,643.07 778.89,645.74 C783.03,648.42 787.17,651.28 791.30,653.12 C795.43,654.97 799.55,655.98 803.68,656.82 C807.80,657.65 811.51,657.72 816.05,658.14 C820.59,658.56 826.38,659.22 830.92,659.35 C835.46,659.48 838.76,658.72 843.30,658.93 C847.85,659.14 849.60,659.51 858.17,660.62 C866.74,661.73 886.29,664.62 894.73,665.58 C903.18,666.53 904.31,665.93 908.85,666.34 C913.39,666.76 917.32,667.17 921.98,668.08 C926.65,668.98 931.90,670.65 936.85,671.76 C941.81,672.87 946.77,673.83 951.72,674.74 C956.68,675.65 961.63,676.47 966.59,677.22 C971.54,677.96 976.50,678.66 981.45,679.19 C986.41,679.73 990.95,680.11 996.32,680.44 C1001.69,680.77 1008.29,680.98 1013.66,681.18 C1019.03,681.39 1023.57,681.67 1028.53,681.67 C1033.48,681.67 1037.61,681.31 1043.39,681.19 C1049.18,681.06 1059.91,680.98 1063.22,680.94" stroke="#1f77b4" stroke-width="8.7" stroke-linecap="square" stroke-linejoin="round"/>
<path d="M675.56,488.42 C676.06,491.31 677.01,499.98 678.54,505.76 C680.07,511.55 682.46,517.95 684.73,523.11 C687.00,528.27 689.27,532.19 692.17,536.74 C695.06,541.28 698.77,545.61 702.08,550.36 C705.38,555.11 708.27,560.27 711.99,565.23 C715.70,570.18 720.25,575.14 724.38,580.10 C728.51,585.05 732.22,590.42 736.76,594.96 C741.31,599.50 746.67,604.05 751.63,607.35 C756.59,610.65 761.13,612.31 766.50,614.78 C771.86,617.26 777.65,619.94 783.84,622.22 C790.03,624.49 797.05,626.43 803.66,628.41 C810.27,630.39 816.88,632.46 823.48,634.11 C830.09,635.76 837.52,637.00 843.31,638.32 C849.09,639.64 849.60,640.10 858.17,642.04 C866.74,643.98 886.29,648.31 894.73,649.97 C903.18,651.62 903.90,651.54 908.86,651.95 C913.81,652.36 919.39,652.24 924.46,652.44 C929.54,652.65 934.38,652.65 939.33,653.19 C944.29,653.72 949.24,654.63 954.20,655.67 C959.15,656.70 963.70,658.14 969.06,659.38 C974.43,660.62 980.63,661.86 986.41,663.10 C992.19,664.34 998.38,665.78 1003.75,666.81 C1009.12,667.85 1012.84,668.67 1018.62,669.29 C1024.40,669.91 1031.01,670.20 1038.44,670.53 C1045.87,670.86 1059.09,671.15 1063.22,671.27" stroke="#ff7f0e" stroke-width="1.8" stroke-linecap="butt" stroke-linejoin="round"/>
<path d="M675.56,487.18 C676.27,489.87 677.84,497.30 679.78,503.29 C681.72,509.27 684.94,517.53 687.21,523.11 C689.48,528.68 690.93,533.43 693.40,536.74 C695.88,540.04 698.98,541.48 702.08,542.93 C705.17,544.37 708.27,544.58 711.99,545.41 C715.70,546.23 721.07,546.85 724.38,547.89 C727.68,548.92 728.92,549.33 731.81,551.60 C734.70,553.87 738.00,558.21 741.72,561.51 C745.44,564.82 749.57,567.91 754.11,571.42 C758.65,574.93 764.02,579.06 768.97,582.57 C773.93,586.08 778.89,589.59 783.84,592.48 C788.80,595.37 793.75,598.06 798.71,599.92 C803.66,601.78 808.20,602.19 813.57,603.63 C818.94,605.08 825.55,606.73 830.92,608.59 C836.29,610.45 840.83,612.31 845.78,614.78 C850.74,617.26 852.49,618.91 860.65,623.45 C868.81,628.00 886.70,638.11 894.73,642.04 C902.77,645.96 903.90,645.55 908.86,646.99 C913.81,648.44 919.39,649.47 924.46,650.71 C929.54,651.95 934.38,652.77 939.33,654.43 C944.29,656.08 949.24,658.56 954.20,660.62 C959.15,662.69 963.70,664.75 969.06,666.81 C974.43,668.88 980.63,670.94 986.41,673.01 C992.19,675.07 998.38,677.55 1003.75,679.20 C1009.12,680.85 1012.84,681.89 1018.62,682.92 C1024.40,683.95 1031.01,684.37 1038.44,685.40 C1045.87,686.43 1059.09,688.49 1063.22,689.11" stroke="#2ca02c" stroke-width="1.8" stroke-linecap="butt" stroke-linejoin="round"/>
<path d="M675.20,487.70 C675.73,488.94 677.12,493.57 678.35,495.15 C679.59,496.72 681.16,496.16 682.62,497.12 C684.09,498.09 685.66,499.89 687.15,500.93 C688.64,501.97 690.27,502.81 691.58,503.37 C692.90,503.92 693.56,503.33 695.03,504.24 C696.51,505.16 698.56,507.58 700.42,508.87 C702.28,510.16 703.77,511.24 706.20,511.99 C708.63,512.74 713.21,513.18 715.00,513.38 C716.79,513.58 714.55,513.02 716.94,513.20 C719.33,513.37 725.20,513.82 729.33,514.44 C733.46,515.06 737.71,515.67 741.72,516.91 C745.73,518.15 749.24,520.22 753.36,521.87 C757.49,523.52 762.24,525.17 766.50,526.82 C770.75,528.48 774.34,530.54 778.89,531.78 C783.43,533.02 788.80,533.23 793.75,534.26 C798.71,535.29 802.84,536.74 808.62,537.97 C814.40,539.21 821.83,540.25 828.44,541.69 C835.05,543.14 837.21,543.96 848.26,546.65 C859.31,549.33 884.63,555.61 894.73,557.80 C904.83,559.98 903.90,559.16 908.86,559.78 C913.81,560.40 919.39,561.14 924.46,561.51 C929.54,561.88 934.38,562.09 939.33,562.01 C944.29,561.93 949.24,561.22 954.20,561.02 C959.15,560.81 963.70,560.89 969.06,560.77 C974.43,560.65 980.63,560.23 986.41,560.27 C992.19,560.31 998.38,560.81 1003.75,561.02 C1009.12,561.22 1012.84,561.43 1018.62,561.51 C1024.40,561.59 1031.01,561.31 1038.44,561.51 C1045.87,561.72 1059.09,562.54 1063.22,562.75" stroke="#d62728" stroke-width="1.8" stroke-linecap="butt" stroke-linejoin="round"/>
<path d="M675.20,484.20 C675.87,483.60 678.09,482.23 679.20,480.60 C680.31,478.97 680.90,476.19 681.85,474.43 C682.80,472.66 684.00,472.21 684.89,470.00 C685.78,467.79 685.17,465.11 687.21,461.17 C689.25,457.22 694.23,449.81 697.12,446.30 C700.01,442.79 702.08,441.55 704.56,440.11 C707.03,438.66 709.10,437.84 711.99,437.63 C714.88,437.42 718.18,438.04 721.90,438.87 C725.61,439.69 730.16,441.14 734.29,442.58 C738.42,444.03 743.50,446.01 746.67,447.54 C749.85,449.07 750.06,450.72 753.36,451.75 C756.67,452.78 761.42,453.20 766.50,453.73 C771.58,454.27 779.30,454.89 783.84,454.97 C788.38,455.05 788.80,453.94 793.75,454.23 C798.71,454.52 807.38,455.88 813.57,456.71 C819.77,457.53 825.14,458.44 830.92,459.18 C836.70,459.93 837.62,459.80 848.26,461.17 C858.90,462.53 884.63,466.12 894.73,467.36 C904.83,468.60 903.90,468.19 908.86,468.60 C913.81,469.01 919.39,469.42 924.46,469.84 C929.54,470.25 935.20,470.87 939.33,471.08 C943.46,471.28 944.29,470.83 949.24,471.08 C954.20,471.32 958.33,471.94 969.06,472.56 C979.80,473.18 997.97,474.13 1013.66,474.79 C1029.35,475.45 1054.96,476.24 1063.22,476.53" stroke="#9467bd" stroke-width="1.8" stroke-linecap="butt" stroke-linejoin="round"/>
</g>
<rect x="656.4" y="426.2" width="426.2" height="276.1" fill="none" stroke="#000" stroke-width="1.3"/>
<line x1="675.60" y1="702.3" x2="675.60" y2="707.5" stroke="#000" stroke-width="1.2"/>
<text x="676.5" y="720.8" font-size="14.2" text-anchor="middle" textLength="7.0" lengthAdjust="spacingAndGlyphs">0</text>
<line x1="753.20" y1="702.3" x2="753.20" y2="707.5" stroke="#000" stroke-width="1.2"/>
<text x="752.9" y="720.8" font-size="14.2" text-anchor="middle" textLength="21.4" lengthAdjust="spacingAndGlyphs">200</text>
<line x1="830.80" y1="702.3" x2="830.80" y2="707.5" stroke="#000" stroke-width="1.2"/>
<text x="830.5" y="720.8" font-size="14.2" text-anchor="middle" textLength="21.4" lengthAdjust="spacingAndGlyphs">400</text>
<line x1="908.40" y1="702.3" x2="908.40" y2="707.5" stroke="#000" stroke-width="1.2"/>
<text x="908.1" y="720.8" font-size="14.2" text-anchor="middle" textLength="21.4" lengthAdjust="spacingAndGlyphs">600</text>
<line x1="986.00" y1="702.3" x2="986.00" y2="707.5" stroke="#000" stroke-width="1.2"/>
<text x="985.7" y="720.8" font-size="14.2" text-anchor="middle" textLength="21.4" lengthAdjust="spacingAndGlyphs">800</text>
<line x1="1063.60" y1="702.3" x2="1063.60" y2="707.5" stroke="#000" stroke-width="1.2"/>
<text x="1062.0" y="720.8" font-size="14.2" text-anchor="middle" textLength="28.7" lengthAdjust="spacingAndGlyphs">1000</text>
<line x1="651.6" y1="688.50" x2="656.4" y2="688.50" stroke="#000" stroke-width="1.2"/>
<text x="646.2" y="692.9" font-size="14.2" text-anchor="end" textLength="14.2" lengthAdjust="spacingAndGlyphs">10</text>
<line x1="651.6" y1="632.83" x2="656.4" y2="632.83" stroke="#000" stroke-width="1.2"/>
<text x="646.2" y="637.2" font-size="14.2" text-anchor="end" textLength="14.2" lengthAdjust="spacingAndGlyphs">15</text>
<line x1="651.6" y1="577.15" x2="656.4" y2="577.15" stroke="#000" stroke-width="1.2"/>
<text x="646.2" y="581.5" font-size="14.2" text-anchor="end" textLength="14.2" lengthAdjust="spacingAndGlyphs">20</text>
<line x1="651.6" y1="521.48" x2="656.4" y2="521.48" stroke="#000" stroke-width="1.2"/>
<text x="646.2" y="525.9" font-size="14.2" text-anchor="end" textLength="14.2" lengthAdjust="spacingAndGlyphs">25</text>
<line x1="651.6" y1="465.80" x2="656.4" y2="465.80" stroke="#000" stroke-width="1.2"/>
<text x="646.2" y="470.2" font-size="14.2" text-anchor="end" textLength="14.2" lengthAdjust="spacingAndGlyphs">30</text>
<text x="869.5" y="738.5" font-size="14.2" text-anchor="middle">k</text>
<text transform="translate(617.55,593.35) rotate(-90)" x="0" y="0" font-size="14">|</text>
<text transform="translate(617.55,588.95) rotate(-90)" x="0" y="0" font-size="14" font-style="italic">x</text>
<text transform="translate(612.95,580.85) rotate(-90)" x="0" y="0" font-size="9.5" font-style="italic">k</text>
<text transform="translate(617.55,572.75) rotate(-90)" x="0" y="0" font-size="14">−</text>
<text transform="translate(617.55,560.25) rotate(-90)" x="0" y="0" font-size="14" font-style="italic">m</text>
<text transform="translate(613.55,544.95) rotate(-90)" x="0" y="0" font-size="10">*</text>
<text transform="translate(617.55,536.65) rotate(-90)" x="0" y="0" font-size="14">|</text>
<line x1="602.60" y1="572.85" x2="602.60" y2="589.55" stroke="#000" stroke-width="1.1"/>
<text x="869.5" y="415.4" font-size="15.6" text-anchor="middle" textLength="366" lengthAdjust="spacingAndGlyphs">A posteriori mean estimation, <tspan font-style="italic">γ</tspan> = 0.05, <tspan font-style="italic">d</tspan><tspan font-size="10.5" dy="-6">2</tspan><tspan dy="6"> = 100</tspan></text>
<rect x="951.4" y="435.3" width="127.6" height="98.6" rx="3" fill="#999"/>
<rect x="949.2" y="432.7" width="127.6" height="98.6" rx="3" fill="#fff" fill-opacity="0.82" stroke="#ddd" stroke-width="0.8"/>
<rect x="950.0" y="438.2" width="34.5" height="8.7" fill="#1f77b4"/>
<text x="990.2" y="447.0" font-size="13.2" text-anchor="start" textLength="40.5" lengthAdjust="spacingAndGlyphs">PSGLA</text>
<line x1="952.7" y1="461.6" x2="980.2" y2="461.6" stroke="#ff7f0e" stroke-width="2.2"/>
<text x="990.2" y="466.0" font-size="13.2" text-anchor="start" textLength="81.5" lengthAdjust="spacingAndGlyphs">MYULA(0.05)</text>
<line x1="952.7" y1="480.7" x2="980.2" y2="480.7" stroke="#2ca02c" stroke-width="2.2"/>
<text x="990.2" y="485.1" font-size="13.2" text-anchor="start" textLength="73.0" lengthAdjust="spacingAndGlyphs">MYULA(0.1)</text>
<line x1="952.7" y1="499.7" x2="980.2" y2="499.7" stroke="#d62728" stroke-width="2.2"/>
<text x="990.2" y="504.1" font-size="13.2" text-anchor="start" textLength="73.0" lengthAdjust="spacingAndGlyphs">MYULA(0.5)</text>
<line x1="952.7" y1="518.7" x2="980.2" y2="518.7" stroke="#9467bd" stroke-width="2.2"/>
<text x="990.2" y="523.1" font-size="13.2" text-anchor="start" textLength="73.0" lengthAdjust="spacingAndGlyphs">MYULA(1.0)</text>
</g>
<g font-family="'Liberation Sans', sans-serif" fill="#000">
<line x1="90.80" y1="804.2" x2="90.80" y2="1080.3" stroke="#b0b0b0" stroke-width="1.1"/>
<line x1="168.44" y1="804.2" x2="168.44" y2="1080.3" stroke="#b0b0b0" stroke-width="1.1"/>
<line x1="246.08" y1="804.2" x2="246.08" y2="1080.3" stroke="#b0b0b0" stroke-width="1.1"/>
<line x1="323.72" y1="804.2" x2="323.72" y2="1080.3" stroke="#b0b0b0" stroke-width="1.1"/>
<line x1="401.36" y1="804.2" x2="401.36" y2="1080.3" stroke="#b0b0b0" stroke-width="1.1"/>
<line x1="479.00" y1="804.2" x2="479.00" y2="1080.3" stroke="#b0b0b0" stroke-width="1.1"/>
<line x1="71.6" y1="1070.50" x2="498.2" y2="1070.50" stroke="#b0b0b0" stroke-width="1.1"/>
<line x1="71.6" y1="1016.98" x2="498.2" y2="1016.98" stroke="#b0b0b0" stroke-width="1.1"/>
<line x1="71.6" y1="963.45" x2="498.2" y2="963.45" stroke="#b0b0b0" stroke-width="1.1"/>
<line x1="71.6" y1="909.92" x2="498.2" y2="909.92" stroke="#b0b0b0" stroke-width="1.1"/>
<line x1="71.6" y1="856.40" x2="498.2" y2="856.40" stroke="#b0b0b0" stroke-width="1.1"/>
<clipPath id="c4"><rect x="71.6" y="804.2" width="426.6" height="276.0999999999999"/></clipPath>
<g clip-path="url(#c4)" fill="none" stroke-linejoin="round">
<path d="M90.40,823.80 C90.60,826.75 91.07,835.47 91.60,841.50 C92.13,847.53 92.70,853.67 93.60,860.00 C94.50,866.33 95.98,873.00 97.00,879.50 C98.02,886.00 98.43,892.52 99.70,899.00 C100.97,905.48 102.32,911.92 104.60,918.40 C106.88,924.88 111.11,933.05 113.40,937.90 C115.69,942.75 116.24,944.26 118.32,947.53 C120.39,950.79 123.90,954.45 125.85,957.49 C127.81,960.53 127.72,962.20 130.03,965.78 C132.34,969.37 136.45,974.53 139.70,979.00 C142.95,983.47 146.28,989.00 149.52,992.58 C152.77,996.15 155.92,997.37 159.17,1000.44 C162.41,1003.50 165.73,1008.47 168.99,1010.97 C172.25,1013.47 174.67,1014.19 178.72,1015.43 C182.77,1016.67 188.44,1017.34 193.30,1018.41 C198.16,1019.47 203.03,1020.43 207.90,1021.81 C212.76,1023.20 217.15,1025.08 222.50,1026.70 C227.85,1028.31 234.86,1030.33 240.00,1031.49 C245.14,1032.66 248.64,1032.50 253.34,1033.69 C258.05,1034.88 258.82,1035.11 268.22,1038.62 C277.61,1042.13 300.46,1051.42 309.73,1054.73 C319.01,1058.03 318.90,1057.20 323.86,1058.44 C328.81,1059.67 334.39,1061.43 339.47,1062.13 C344.55,1062.84 348.96,1062.64 354.33,1062.65 C359.70,1062.66 366.31,1062.04 371.67,1062.17 C377.04,1062.29 381.59,1062.99 386.54,1063.40 C391.50,1063.81 396.04,1064.30 401.41,1064.63 C406.78,1064.96 413.38,1065.17 418.75,1065.38 C424.12,1065.59 427.84,1065.67 433.62,1065.88 C439.40,1066.08 446.01,1066.49 453.44,1066.62 C460.87,1066.74 474.09,1066.62 478.22,1066.62" stroke="#1f77b4" stroke-width="8.7" stroke-linecap="square" stroke-linejoin="round"/>
<path d="M90.56,825.54 C91.06,829.87 92.42,843.09 93.54,851.55 C94.65,860.02 95.73,870.06 97.25,876.33 C98.78,882.61 101.14,883.81 102.70,889.20 C104.26,894.59 104.50,902.20 106.60,908.70 C108.70,915.20 111.90,921.72 115.30,928.20 C118.70,934.68 124.55,944.17 127.00,947.60 C129.45,951.03 127.88,946.02 130.00,948.80 C132.12,951.58 136.45,960.08 139.70,964.30 C142.95,968.52 146.25,971.02 149.50,974.10 C152.75,977.18 155.97,979.23 159.20,982.80 C162.43,986.37 165.17,991.77 168.90,995.50 C172.63,999.23 176.72,1003.08 181.60,1005.20 C186.48,1007.32 193.00,1006.98 198.20,1008.20 C203.40,1009.42 207.93,1011.37 212.80,1012.50 C217.67,1013.63 222.87,1014.27 227.40,1015.00 C231.93,1015.73 237.33,1016.68 240.00,1016.90 C242.67,1017.12 240.39,1016.71 243.44,1016.32 C246.49,1015.94 254.18,1014.79 258.31,1014.59 C262.43,1014.38 264.50,1014.38 268.22,1015.08 C271.93,1015.78 273.69,1016.40 280.60,1018.80 C287.52,1021.19 302.52,1027.51 309.73,1029.45 C316.94,1031.39 318.90,1030.15 323.86,1030.44 C328.81,1030.73 334.39,1031.06 339.46,1031.19 C344.54,1031.31 348.96,1031.06 354.33,1031.19 C359.70,1031.31 366.31,1031.52 371.67,1031.93 C377.04,1032.34 381.59,1033.17 386.54,1033.67 C391.50,1034.16 396.04,1034.49 401.41,1034.90 C406.78,1035.32 413.38,1035.73 418.75,1036.14 C424.12,1036.56 427.84,1036.97 433.62,1037.38 C439.40,1037.79 446.01,1038.41 453.44,1038.62 C460.87,1038.83 474.09,1038.62 478.22,1038.62" stroke="#ff7f0e" stroke-width="1.8" stroke-linecap="butt" stroke-linejoin="round"/>
<path d="M90.56,825.54 C91.27,829.87 93.25,843.09 94.78,851.55 C96.30,860.02 97.87,868.90 99.73,876.33 C101.59,883.76 103.45,890.37 105.93,896.15 C108.40,901.93 111.90,907.31 114.60,911.02 C117.29,914.73 118.90,915.54 122.10,918.40 C125.30,921.26 129.23,924.60 133.80,928.20 C138.37,931.80 143.65,935.77 149.50,940.00 C155.35,944.23 164.03,950.03 168.90,953.60 C173.77,957.17 174.63,957.17 178.70,961.40 C182.77,965.63 188.43,973.48 193.30,979.00 C198.17,984.52 203.85,990.62 207.90,994.50 C211.95,998.38 212.25,999.22 217.60,1002.30 C222.95,1005.38 235.69,1010.87 240.00,1013.00 C244.31,1015.13 240.39,1013.70 243.44,1015.08 C246.49,1016.46 253.35,1019.01 258.31,1021.28 C263.26,1023.55 264.60,1025.12 273.17,1028.71 C281.74,1032.30 301.29,1039.94 309.73,1042.83 C318.18,1045.72 318.90,1045.10 323.86,1046.05 C328.81,1047.00 334.39,1047.91 339.46,1048.53 C344.54,1049.15 348.96,1049.23 354.33,1049.77 C359.70,1050.31 366.31,1051.13 371.67,1051.75 C377.04,1052.37 381.59,1052.99 386.54,1053.49 C391.50,1053.98 396.04,1054.44 401.41,1054.73 C406.78,1055.01 413.38,1055.30 418.75,1055.22 C424.12,1055.14 427.84,1055.14 433.62,1054.23 C439.40,1053.32 446.01,1050.93 453.44,1049.77 C460.87,1048.61 474.09,1047.71 478.22,1047.29" stroke="#2ca02c" stroke-width="1.8" stroke-linecap="butt" stroke-linejoin="round"/>
<path d="M90.56,825.54 C91.27,829.05 93.74,840.85 94.78,846.60 C95.82,852.34 94.83,852.90 96.80,860.00 C98.77,867.10 102.87,879.47 106.60,889.20 C110.33,898.93 115.15,910.28 119.20,918.40 C123.25,926.52 128.28,934.30 130.90,937.90 C133.52,941.50 132.62,938.52 134.90,940.00 C137.18,941.48 140.55,944.68 144.60,946.80 C148.65,948.92 153.52,949.78 159.20,952.70 C164.88,955.62 172.20,959.92 178.70,964.30 C185.20,968.68 191.72,975.27 198.20,979.00 C204.68,982.73 212.73,984.60 217.60,986.70 C222.47,988.80 223.67,990.22 227.40,991.60 C231.13,992.98 237.33,994.39 240.00,995.00 C242.67,995.61 240.39,994.39 243.44,995.26 C246.49,996.13 253.35,998.56 258.31,1000.22 C263.26,1001.87 264.60,1002.28 273.17,1005.17 C281.74,1008.06 301.29,1014.75 309.73,1017.56 C318.18,1020.37 318.90,1020.78 323.86,1022.02 C328.81,1023.26 334.39,1024.00 339.46,1024.99 C344.54,1025.98 348.96,1026.93 354.33,1027.97 C359.70,1029.00 366.31,1030.36 371.67,1031.19 C377.04,1032.01 381.59,1032.30 386.54,1032.92 C391.50,1033.54 396.04,1034.37 401.41,1034.90 C406.78,1035.44 413.38,1035.52 418.75,1036.14 C424.12,1036.76 427.84,1037.59 433.62,1038.62 C439.40,1039.65 446.01,1041.39 453.44,1042.34 C460.87,1043.29 474.09,1043.99 478.22,1044.32" stroke="#d62728" stroke-width="1.8" stroke-linecap="butt" stroke-linejoin="round"/>
<path d="M90.56,825.54 C91.27,829.87 93.25,843.50 94.78,851.55 C96.30,859.61 98.10,866.78 99.73,873.85 C101.37,880.93 102.66,889.81 104.60,894.00 C106.54,898.19 108.63,894.93 111.40,899.00 C114.17,903.07 117.13,912.73 121.20,918.40 C125.27,924.07 130.93,928.93 135.80,933.00 C140.67,937.07 144.88,938.72 150.40,942.80 C155.92,946.88 160.93,951.63 168.90,957.50 C176.87,963.37 190.08,973.62 198.20,978.00 C206.32,982.38 210.63,981.85 217.60,983.80 C224.57,985.75 235.69,988.41 240.00,989.70 C244.31,990.99 240.39,991.03 243.44,991.54 C246.49,992.06 253.35,992.37 258.31,992.78 C263.26,993.20 264.60,991.96 273.17,994.02 C281.74,996.09 301.29,1002.07 309.73,1005.17 C318.18,1008.27 318.90,1010.13 323.86,1012.60 C328.81,1015.08 334.39,1017.56 339.46,1020.04 C344.54,1022.52 348.96,1025.61 354.33,1027.47 C359.70,1029.33 366.31,1030.28 371.67,1031.19 C377.04,1032.10 381.59,1032.30 386.54,1032.92 C391.50,1033.54 396.04,1034.24 401.41,1034.90 C406.78,1035.56 413.38,1036.06 418.75,1036.89 C424.12,1037.71 427.84,1038.62 433.62,1039.86 C439.40,1041.10 446.01,1043.49 453.44,1044.32 C460.87,1045.15 474.09,1044.73 478.22,1044.81" stroke="#9467bd" stroke-width="1.8" stroke-linecap="butt" stroke-linejoin="round"/>
<path d="M90.40,823.80 C91.10,824.92 93.54,828.86 94.60,830.50 C95.66,832.14 96.03,831.78 96.77,833.62 C97.50,835.45 98.11,838.34 99.00,841.50 C99.89,844.66 101.05,849.79 102.10,852.60 C103.15,855.41 104.53,857.11 105.28,858.34 C106.03,859.58 105.57,858.11 106.59,860.01 C107.61,861.90 107.67,866.45 111.40,869.70 C115.13,872.95 123.48,876.25 129.00,879.50 C134.52,882.75 139.63,885.95 144.50,889.20 C149.37,892.45 154.22,895.52 158.20,899.00 C162.18,902.48 164.83,906.87 168.40,910.10 C171.97,913.33 174.33,915.38 179.60,918.40 C184.87,921.42 193.98,924.60 200.00,928.20 C206.02,931.80 209.03,935.92 215.70,940.00 C222.37,944.08 233.73,949.68 240.00,952.70 C246.27,955.72 248.65,955.96 253.35,958.10 C258.05,960.23 258.82,962.22 268.22,965.53 C277.61,968.83 300.46,975.77 309.73,977.92 C319.01,980.06 318.90,978.41 323.86,978.41 C328.81,978.41 334.39,978.12 339.46,977.92 C344.54,977.71 348.96,977.38 354.33,977.17 C359.70,976.97 366.31,976.76 371.67,976.68 C377.04,976.60 381.59,976.76 386.54,976.68 C391.50,976.60 396.04,976.26 401.41,976.18 C406.78,976.10 413.38,976.22 418.75,976.18 C424.12,976.14 427.84,976.06 433.62,975.93 C439.40,975.81 446.01,975.60 453.44,975.44 C460.87,975.27 474.09,975.03 478.22,974.94" stroke="#8c564b" stroke-width="1.8" stroke-linecap="butt" stroke-linejoin="round"/>
<path d="M90.40,823.80 C90.52,824.47 90.40,827.53 91.10,827.80 C91.80,828.07 93.38,825.42 94.63,825.41 C95.87,825.40 97.19,828.57 98.59,827.72 C99.98,826.87 101.53,822.20 103.01,820.31 C104.49,818.42 106.15,816.82 107.48,816.39 C108.81,815.96 109.66,816.25 110.98,817.72 C112.30,819.19 113.56,822.85 115.40,825.20 C117.24,827.54 119.57,830.18 122.00,831.80 C124.43,833.41 127.92,833.89 129.99,834.91 C132.06,835.93 131.62,836.39 134.42,837.93 C137.22,839.46 142.68,842.47 146.81,844.12 C150.94,845.77 155.60,846.81 159.20,847.84 C162.79,848.87 164.24,849.28 168.36,850.32 C172.49,851.35 178.89,853.21 183.97,854.03 C189.05,854.86 193.06,855.06 198.84,855.27 C204.62,855.48 213.29,855.06 218.66,855.27 C224.03,855.48 226.51,855.89 231.05,856.51 C235.59,857.13 240.55,857.95 245.92,858.99 C251.29,860.02 252.62,861.13 263.26,862.70 C273.90,864.27 299.63,867.16 309.73,868.40 C319.83,869.64 318.90,869.72 323.86,870.14 C328.81,870.55 334.39,870.47 339.46,870.88 C344.54,871.29 343.59,871.71 354.33,872.61 C365.07,873.52 383.24,875.22 403.89,876.33 C424.53,877.45 465.83,878.81 478.22,879.30" stroke="#e377c2" stroke-width="1.8" stroke-linecap="butt" stroke-linejoin="round"/>
</g>
<rect x="71.6" y="804.2" width="426.6" height="276.1" fill="none" stroke="#000" stroke-width="1.3"/>
<line x1="90.80" y1="1080.3" x2="90.80" y2="1085.5" stroke="#000" stroke-width="1.2"/>
<text x="91.7" y="1098.8" font-size="14.2" text-anchor="middle" textLength="7.0" lengthAdjust="spacingAndGlyphs">0</text>
<line x1="168.44" y1="1080.3" x2="168.44" y2="1085.5" stroke="#000" stroke-width="1.2"/>
<text x="168.1" y="1098.8" font-size="14.2" text-anchor="middle" textLength="28.7" lengthAdjust="spacingAndGlyphs">2000</text>
<line x1="246.08" y1="1080.3" x2="246.08" y2="1085.5" stroke="#000" stroke-width="1.2"/>
<text x="245.8" y="1098.8" font-size="14.2" text-anchor="middle" textLength="28.7" lengthAdjust="spacingAndGlyphs">4000</text>
<line x1="323.72" y1="1080.3" x2="323.72" y2="1085.5" stroke="#000" stroke-width="1.2"/>
<text x="323.4" y="1098.8" font-size="14.2" text-anchor="middle" textLength="28.7" lengthAdjust="spacingAndGlyphs">6000</text>
<line x1="401.36" y1="1080.3" x2="401.36" y2="1085.5" stroke="#000" stroke-width="1.2"/>
<text x="401.1" y="1098.8" font-size="14.2" text-anchor="middle" textLength="28.7" lengthAdjust="spacingAndGlyphs">8000</text>
<line x1="479.00" y1="1080.3" x2="479.00" y2="1085.5" stroke="#000" stroke-width="1.2"/>
<text x="477.4" y="1098.8" font-size="14.2" text-anchor="middle" textLength="36.0" lengthAdjust="spacingAndGlyphs">10000</text>
<line x1="66.8" y1="1070.50" x2="71.6" y2="1070.50" stroke="#000" stroke-width="1.2"/>
<text x="61.4" y="1074.9" font-size="14.2" text-anchor="end" textLength="7.0" lengthAdjust="spacingAndGlyphs">5</text>
<line x1="66.8" y1="1016.98" x2="71.6" y2="1016.98" stroke="#000" stroke-width="1.2"/>
<text x="61.4" y="1021.4" font-size="14.2" text-anchor="end" textLength="14.2" lengthAdjust="spacingAndGlyphs">10</text>
<line x1="66.8" y1="963.45" x2="71.6" y2="963.45" stroke="#000" stroke-width="1.2"/>
<text x="61.4" y="967.9" font-size="14.2" text-anchor="end" textLength="14.2" lengthAdjust="spacingAndGlyphs">15</text>
<line x1="66.8" y1="909.92" x2="71.6" y2="909.92" stroke="#000" stroke-width="1.2"/>
<text x="61.4" y="914.3" font-size="14.2" text-anchor="end" textLength="14.2" lengthAdjust="spacingAndGlyphs">20</text>
<line x1="66.8" y1="856.40" x2="71.6" y2="856.40" stroke="#000" stroke-width="1.2"/>
<text x="61.4" y="860.8" font-size="14.2" text-anchor="end" textLength="14.2" lengthAdjust="spacingAndGlyphs">25</text>
<text x="284.9" y="1116.5" font-size="14.2" text-anchor="middle">k</text>
<text transform="translate(32.75,971.35) rotate(-90)" x="0" y="0" font-size="14">|</text>
<text transform="translate(32.75,966.95) rotate(-90)" x="0" y="0" font-size="14" font-style="italic">x</text>
<text transform="translate(28.15,958.85) rotate(-90)" x="0" y="0" font-size="9.5" font-style="italic">k</text>
<text transform="translate(32.75,950.75) rotate(-90)" x="0" y="0" font-size="14">−</text>
<text transform="translate(32.75,938.25) rotate(-90)" x="0" y="0" font-size="14" font-style="italic">m</text>
<text transform="translate(28.75,922.95) rotate(-90)" x="0" y="0" font-size="10">*</text>
<text transform="translate(32.75,914.65) rotate(-90)" x="0" y="0" font-size="14">|</text>
<line x1="17.80" y1="950.85" x2="17.80" y2="967.55" stroke="#000" stroke-width="1.1"/>
<text x="284.9" y="793.4" font-size="15.6" text-anchor="middle" textLength="366" lengthAdjust="spacingAndGlyphs">A posteriori mean estimation, <tspan font-style="italic">γ</tspan> = 0.01, <tspan font-style="italic">d</tspan><tspan font-size="10.5" dy="-6">2</tspan><tspan dy="6"> = 100</tspan></text>
<rect x="357.7" y="813.3" width="136.2" height="136.6" rx="3" fill="#999"/>
<rect x="355.5" y="810.7" width="136.2" height="136.6" rx="3" fill="#fff" fill-opacity="0.82" stroke="#ddd" stroke-width="0.8"/>
<rect x="356.3" y="816.2" width="34.5" height="8.7" fill="#1f77b4"/>
<text x="396.5" y="825.0" font-size="13.2" text-anchor="start" textLength="40.5" lengthAdjust="spacingAndGlyphs">PSGLA</text>
<line x1="359.0" y1="839.6" x2="386.5" y2="839.6" stroke="#ff7f0e" stroke-width="2.2"/>
<text x="396.5" y="844.0" font-size="13.2" text-anchor="start" textLength="89.0" lengthAdjust="spacingAndGlyphs">MYULA(0.005)</text>
<line x1="359.0" y1="858.7" x2="386.5" y2="858.7" stroke="#2ca02c" stroke-width="2.2"/>
<text x="396.5" y="863.1" font-size="13.2" text-anchor="start" textLength="81.0" lengthAdjust="spacingAndGlyphs">MYULA(0.01)</text>
<line x1="359.0" y1="877.7" x2="386.5" y2="877.7" stroke="#d62728" stroke-width="2.2"/>
<text x="396.5" y="882.1" font-size="13.2" text-anchor="start" textLength="81.5" lengthAdjust="spacingAndGlyphs">MYULA(0.05)</text>
<line x1="359.0" y1="896.7" x2="386.5" y2="896.7" stroke="#9467bd" stroke-width="2.2"/>
<text x="396.5" y="901.1" font-size="13.2" text-anchor="start" textLength="73.0" lengthAdjust="spacingAndGlyphs">MYULA(0.1)</text>
<line x1="359.0" y1="915.8" x2="386.5" y2="915.8" stroke="#8c564b" stroke-width="2.2"/>
<text x="396.5" y="920.1" font-size="13.2" text-anchor="start" textLength="73.0" lengthAdjust="spacingAndGlyphs">MYULA(0.5)</text>
<line x1="359.0" y1="934.8" x2="386.5" y2="934.8" stroke="#e377c2" stroke-width="2.2"/>
<text x="396.5" y="939.2" font-size="13.2" text-anchor="start" textLength="73.0" lengthAdjust="spacingAndGlyphs">MYULA(1.0)</text>
</g>
<g font-family="'Liberation Sans', sans-serif" fill="#000">
<line x1="675.60" y1="804.2" x2="675.60" y2="1080.3" stroke="#b0b0b0" stroke-width="1.1"/>
<line x1="753.20" y1="804.2" x2="753.20" y2="1080.3" stroke="#b0b0b0" stroke-width="1.1"/>
<line x1="830.80" y1="804.2" x2="830.80" y2="1080.3" stroke="#b0b0b0" stroke-width="1.1"/>
<line x1="908.40" y1="804.2" x2="908.40" y2="1080.3" stroke="#b0b0b0" stroke-width="1.1"/>
<line x1="986.00" y1="804.2" x2="986.00" y2="1080.3" stroke="#b0b0b0" stroke-width="1.1"/>
<line x1="1063.60" y1="804.2" x2="1063.60" y2="1080.3" stroke="#b0b0b0" stroke-width="1.1"/>
<line x1="656.4" y1="1051.30" x2="1082.6" y2="1051.30" stroke="#b0b0b0" stroke-width="1.1"/>
<line x1="656.4" y1="1003.46" x2="1082.6" y2="1003.46" stroke="#b0b0b0" stroke-width="1.1"/>
<line x1="656.4" y1="955.62" x2="1082.6" y2="955.62" stroke="#b0b0b0" stroke-width="1.1"/>
<line x1="656.4" y1="907.78" x2="1082.6" y2="907.78" stroke="#b0b0b0" stroke-width="1.1"/>
<line x1="656.4" y1="859.94" x2="1082.6" y2="859.94" stroke="#b0b0b0" stroke-width="1.1"/>
<line x1="656.4" y1="812.10" x2="1082.6" y2="812.10" stroke="#b0b0b0" stroke-width="1.1"/>
<clipPath id="c5"><rect x="656.4" y="804.2" width="426.19999999999993" height="276.0999999999999"/></clipPath>
<g clip-path="url(#c5)" fill="none" stroke-linejoin="round">
<path d="M675.20,822.50 C675.42,825.75 675.77,836.08 676.50,842.00 C677.24,847.92 678.23,851.45 679.60,858.00 C680.97,864.55 682.84,874.10 684.73,881.29 C686.62,888.47 688.45,894.50 690.93,901.11 C693.40,907.72 696.50,914.94 699.60,920.93 C702.70,926.92 705.79,931.67 709.51,937.03 C713.23,942.40 717.77,948.80 721.90,953.14 C726.03,957.47 730.17,960.14 734.30,963.04 C738.42,965.93 743.47,968.45 746.65,970.52 C749.83,972.59 750.05,972.97 753.36,975.44 C756.67,977.91 762.25,982.45 766.50,985.34 C770.76,988.23 774.35,990.30 778.89,992.78 C783.43,995.26 788.80,997.74 793.75,1000.22 C798.71,1002.70 803.66,1004.97 808.62,1007.65 C813.57,1010.34 818.53,1013.84 823.49,1016.31 C828.44,1018.79 833.40,1020.85 838.35,1022.50 C843.31,1024.15 843.82,1023.55 853.22,1026.23 C862.61,1028.92 885.46,1035.73 894.73,1038.62 C904.01,1041.51 903.90,1042.12 908.86,1043.56 C913.81,1045.01 919.39,1046.25 924.47,1047.28 C929.54,1048.32 934.37,1048.75 939.33,1049.78 C944.28,1050.82 949.24,1052.05 954.19,1053.50 C959.15,1054.94 963.70,1056.99 969.06,1058.44 C974.43,1059.88 980.63,1060.92 986.41,1062.16 C992.19,1063.40 998.38,1065.12 1003.75,1065.87 C1009.12,1066.61 1012.84,1066.49 1018.62,1066.62 C1024.40,1066.74 1032.66,1066.73 1038.44,1066.62 C1044.22,1066.50 1049.18,1065.92 1053.30,1065.92 C1057.43,1065.92 1061.56,1066.50 1063.22,1066.62" stroke="#1f77b4" stroke-width="8.7" stroke-linecap="square" stroke-linejoin="round"/>
<path d="M674.82,820.58 C675.23,823.68 676.27,832.35 677.30,839.17 C678.33,845.98 679.57,854.03 681.02,861.46 C682.46,868.90 684.11,876.74 685.97,883.76 C687.83,890.78 689.69,897.39 692.17,903.59 C694.64,909.78 697.74,915.56 700.84,920.93 C703.93,926.30 706.83,930.43 710.75,935.80 C714.67,941.16 720.04,949.01 724.38,953.14 C728.71,957.27 731.93,957.68 736.76,960.57 C741.60,963.46 748.41,966.77 753.36,970.48 C758.32,974.20 762.24,979.16 766.50,982.87 C770.75,986.59 774.34,989.89 778.89,992.78 C783.43,995.67 788.80,997.94 793.75,1000.22 C798.71,1002.49 803.66,1005.50 808.62,1006.41 C813.57,1007.32 818.53,1005.25 823.48,1005.67 C828.44,1006.08 833.39,1007.73 838.35,1008.89 C843.31,1010.04 843.82,1011.16 853.22,1012.60 C862.61,1014.05 885.46,1016.11 894.73,1017.56 C904.01,1019.01 903.90,1020.04 908.86,1021.28 C913.81,1022.52 919.39,1023.88 924.46,1024.99 C929.54,1026.11 934.38,1027.06 939.33,1027.97 C944.29,1028.87 949.24,1029.78 954.20,1030.44 C959.15,1031.10 963.70,1031.52 969.06,1031.93 C974.43,1032.34 980.63,1032.51 986.41,1032.92 C992.19,1033.33 998.38,1034.28 1003.75,1034.41 C1009.12,1034.53 1012.84,1034.41 1018.62,1033.67 C1024.40,1032.92 1031.01,1030.98 1038.44,1029.95 C1045.87,1028.92 1059.09,1027.88 1063.22,1027.47" stroke="#ff7f0e" stroke-width="1.8" stroke-linecap="butt" stroke-linejoin="round"/>
<path d="M676.06,820.58 C676.68,824.09 678.33,834.62 679.78,841.64 C681.22,848.66 682.67,856.51 684.73,862.70 C686.80,868.90 689.69,872.82 692.17,878.81 C694.64,884.80 696.71,892.44 699.60,898.63 C702.49,904.82 705.79,909.78 709.51,915.97 C713.23,922.17 717.77,930.43 721.90,935.80 C726.03,941.16 730.57,944.88 734.29,948.18 C738.00,951.49 741.02,953.55 744.20,955.62 C747.38,957.68 749.65,958.92 753.36,960.57 C757.08,962.22 762.24,963.88 766.50,965.53 C770.75,967.18 774.34,968.83 778.89,970.48 C783.43,972.14 788.80,973.58 793.75,975.44 C798.71,977.30 803.66,979.36 808.62,981.63 C813.57,983.90 818.53,986.59 823.48,989.07 C828.44,991.54 833.39,994.23 838.35,996.50 C843.31,998.77 843.82,999.60 853.22,1002.69 C862.61,1005.79 885.46,1012.40 894.73,1015.08 C904.01,1017.77 903.90,1017.48 908.86,1018.80 C913.81,1020.12 919.39,1021.77 924.46,1023.01 C929.54,1024.25 934.38,1025.41 939.33,1026.23 C944.29,1027.06 949.24,1027.35 954.20,1027.97 C959.15,1028.59 963.70,1029.29 969.06,1029.95 C974.43,1030.61 980.63,1031.31 986.41,1031.93 C992.19,1032.55 998.38,1033.25 1003.75,1033.67 C1009.12,1034.08 1012.84,1033.87 1018.62,1034.41 C1024.40,1034.95 1031.01,1035.89 1038.44,1036.89 C1045.87,1037.88 1059.09,1039.78 1063.22,1040.35" stroke="#2ca02c" stroke-width="1.8" stroke-linecap="butt" stroke-linejoin="round"/>
<path d="M675.30,814.20 C675.50,815.02 675.86,817.55 676.50,819.10 C677.14,820.65 678.27,821.69 679.17,823.52 C680.06,825.34 680.92,828.36 681.87,830.06 C682.82,831.76 683.84,832.39 684.86,833.73 C685.88,835.07 686.89,835.89 688.00,838.10 C689.10,840.31 690.17,843.68 691.50,847.00 C692.83,850.32 694.24,853.11 696.00,858.00 C697.76,862.89 699.41,871.21 702.08,876.33 C704.74,881.45 708.68,885.42 711.99,888.72 C715.29,892.02 718.18,893.67 721.90,896.15 C725.61,898.63 729.04,900.70 734.29,903.59 C739.53,906.48 748.00,911.02 753.36,913.50 C758.73,915.97 761.83,916.80 766.50,918.45 C771.16,920.10 776.82,921.76 781.36,923.41 C785.91,925.06 789.21,926.30 793.75,928.36 C798.29,930.43 803.66,933.94 808.62,935.80 C813.57,937.65 818.53,938.48 823.48,939.51 C828.44,940.54 833.39,940.96 838.35,941.99 C843.31,943.02 843.82,944.18 853.22,945.71 C862.61,947.23 885.46,950.13 894.73,951.16 C904.01,952.19 903.90,951.36 908.86,951.90 C913.81,952.44 919.39,953.55 924.46,954.38 C929.54,955.20 934.38,956.36 939.33,956.86 C944.29,957.35 949.24,957.27 954.20,957.35 C959.15,957.43 963.70,957.15 969.06,957.35 C974.43,957.56 980.63,957.85 986.41,958.59 C992.19,959.33 998.38,960.86 1003.75,961.81 C1009.12,962.76 1012.84,963.59 1018.62,964.29 C1024.40,964.99 1031.01,965.12 1038.44,966.02 C1045.87,966.93 1059.09,969.12 1063.22,969.74" stroke="#d62728" stroke-width="1.8" stroke-linecap="butt" stroke-linejoin="round"/>
<path d="M675.30,819.10 C676.08,820.34 678.54,826.15 680.00,826.54 C681.47,826.94 682.56,822.50 684.10,821.47 C685.65,820.45 687.47,820.73 689.30,820.38 C691.12,820.03 693.33,819.10 695.04,819.40 C696.75,819.69 697.77,821.28 699.54,822.13 C701.30,822.98 704.03,823.61 705.64,824.51 C707.25,825.40 707.64,825.69 709.20,827.50 C710.76,829.32 713.71,833.86 715.01,835.39 C716.30,836.93 715.38,834.82 716.94,836.69 C718.50,838.56 721.48,843.71 724.38,846.60 C727.27,849.49 730.98,852.17 734.29,854.03 C737.59,855.89 741.02,857.13 744.20,857.75 C747.38,858.37 749.65,857.13 753.36,857.75 C757.08,858.37 762.24,859.81 766.50,861.46 C770.75,863.12 774.34,865.59 778.89,867.66 C783.43,869.72 788.80,872.20 793.75,873.85 C798.71,875.51 803.66,876.41 808.62,877.57 C813.57,878.73 818.53,880.17 823.48,880.79 C828.44,881.41 833.39,881.29 838.35,881.29 C843.31,881.29 843.82,880.58 853.22,880.79 C862.61,881.00 885.46,882.32 894.73,882.53 C904.01,882.73 903.90,882.15 908.86,882.03 C913.81,881.91 919.39,881.91 924.46,881.78 C929.54,881.66 935.20,881.37 939.33,881.29 C943.46,881.20 940.98,880.87 949.24,881.29 C957.50,881.70 969.89,882.44 988.89,883.76 C1007.88,885.09 1050.83,888.31 1063.22,889.22" stroke="#9467bd" stroke-width="1.8" stroke-linecap="butt" stroke-linejoin="round"/>
</g>
<rect x="656.4" y="804.2" width="426.2" height="276.1" fill="none" stroke="#000" stroke-width="1.3"/>
<line x1="675.60" y1="1080.3" x2="675.60" y2="1085.5" stroke="#000" stroke-width="1.2"/>
<text x="676.5" y="1098.8" font-size="14.2" text-anchor="middle" textLength="7.0" lengthAdjust="spacingAndGlyphs">0</text>
<line x1="753.20" y1="1080.3" x2="753.20" y2="1085.5" stroke="#000" stroke-width="1.2"/>
<text x="752.9" y="1098.8" font-size="14.2" text-anchor="middle" textLength="21.4" lengthAdjust="spacingAndGlyphs">200</text>
<line x1="830.80" y1="1080.3" x2="830.80" y2="1085.5" stroke="#000" stroke-width="1.2"/>
<text x="830.5" y="1098.8" font-size="14.2" text-anchor="middle" textLength="21.4" lengthAdjust="spacingAndGlyphs">400</text>
<line x1="908.40" y1="1080.3" x2="908.40" y2="1085.5" stroke="#000" stroke-width="1.2"/>
<text x="908.1" y="1098.8" font-size="14.2" text-anchor="middle" textLength="21.4" lengthAdjust="spacingAndGlyphs">600</text>
<line x1="986.00" y1="1080.3" x2="986.00" y2="1085.5" stroke="#000" stroke-width="1.2"/>
<text x="985.7" y="1098.8" font-size="14.2" text-anchor="middle" textLength="21.4" lengthAdjust="spacingAndGlyphs">800</text>
<line x1="1063.60" y1="1080.3" x2="1063.60" y2="1085.5" stroke="#000" stroke-width="1.2"/>
<text x="1062.0" y="1098.8" font-size="14.2" text-anchor="middle" textLength="28.7" lengthAdjust="spacingAndGlyphs">1000</text>
<line x1="651.6" y1="1051.30" x2="656.4" y2="1051.30" stroke="#000" stroke-width="1.2"/>
<text x="646.2" y="1055.7" font-size="14.2" text-anchor="end" textLength="14.2" lengthAdjust="spacingAndGlyphs">10</text>
<line x1="651.6" y1="1003.46" x2="656.4" y2="1003.46" stroke="#000" stroke-width="1.2"/>
<text x="646.2" y="1007.9" font-size="14.2" text-anchor="end" textLength="14.2" lengthAdjust="spacingAndGlyphs">15</text>
<line x1="651.6" y1="955.62" x2="656.4" y2="955.62" stroke="#000" stroke-width="1.2"/>
<text x="646.2" y="960.0" font-size="14.2" text-anchor="end" textLength="14.2" lengthAdjust="spacingAndGlyphs">20</text>
<line x1="651.6" y1="907.78" x2="656.4" y2="907.78" stroke="#000" stroke-width="1.2"/>
<text x="646.2" y="912.2" font-size="14.2" text-anchor="end" textLength="14.2" lengthAdjust="spacingAndGlyphs">25</text>
<line x1="651.6" y1="859.94" x2="656.4" y2="859.94" stroke="#000" stroke-width="1.2"/>
<text x="646.2" y="864.3" font-size="14.2" text-anchor="end" textLength="14.2" lengthAdjust="spacingAndGlyphs">30</text>
<line x1="651.6" y1="812.10" x2="656.4" y2="812.10" stroke="#000" stroke-width="1.2"/>
<text x="646.2" y="816.5" font-size="14.2" text-anchor="end" textLength="14.2" lengthAdjust="spacingAndGlyphs">35</text>
<text x="869.5" y="1116.5" font-size="14.2" text-anchor="middle">k</text>
<text transform="translate(617.55,971.35) rotate(-90)" x="0" y="0" font-size="14">|</text>
<text transform="translate(617.55,966.95) rotate(-90)" x="0" y="0" font-size="14" font-style="italic">x</text>
<text transform="translate(612.95,958.85) rotate(-90)" x="0" y="0" font-size="9.5" font-style="italic">k</text>
<text transform="translate(617.55,950.75) rotate(-90)" x="0" y="0" font-size="14">−</text>
<text transform="translate(617.55,938.25) rotate(-90)" x="0" y="0" font-size="14" font-style="italic">m</text>
<text transform="translate(613.55,922.95) rotate(-90)" x="0" y="0" font-size="10">*</text>
<text transform="translate(617.55,914.65) rotate(-90)" x="0" y="0" font-size="14">|</text>
<line x1="602.60" y1="950.85" x2="602.60" y2="967.55" stroke="#000" stroke-width="1.1"/>
<text x="869.5" y="793.4" font-size="15.6" text-anchor="middle" textLength="357.5" lengthAdjust="spacingAndGlyphs">A posteriori mean estimation, <tspan font-style="italic">γ</tspan> = 0.1, <tspan font-style="italic">d</tspan><tspan font-size="10.5" dy="-6">2</tspan><tspan dy="6"> = 100</tspan></text>
<rect x="951.4" y="813.3" width="127.6" height="98.6" rx="3" fill="#999"/>
<rect x="949.2" y="810.7" width="127.6" height="98.6" rx="3" fill="#fff" fill-opacity="0.82" stroke="#ddd" stroke-width="0.8"/>
<rect x="950.0" y="816.2" width="34.5" height="8.7" fill="#1f77b4"/>
<text x="990.2" y="825.0" font-size="13.2" text-anchor="start" textLength="40.5" lengthAdjust="spacingAndGlyphs">PSGLA</text>
<line x1="952.7" y1="839.6" x2="980.2" y2="839.6" stroke="#ff7f0e" stroke-width="2.2"/>
<text x="990.2" y="844.0" font-size="13.2" text-anchor="start" textLength="81.5" lengthAdjust="spacingAndGlyphs">MYULA(0.05)</text>
<line x1="952.7" y1="858.7" x2="980.2" y2="858.7" stroke="#2ca02c" stroke-width="2.2"/>
<text x="990.2" y="863.1" font-size="13.2" text-anchor="start" textLength="73.0" lengthAdjust="spacingAndGlyphs">MYULA(0.1)</text>
<line x1="952.7" y1="877.7" x2="980.2" y2="877.7" stroke="#d62728" stroke-width="2.2"/>
<text x="990.2" y="882.1" font-size="13.2" text-anchor="start" textLength="73.0" lengthAdjust="spacingAndGlyphs">MYULA(0.5)</text>
<line x1="952.7" y1="896.7" x2="980.2" y2="896.7" stroke="#9467bd" stroke-width="2.2"/>
<text x="990.2" y="901.1" font-size="13.2" text-anchor="start" textLength="73.0" lengthAdjust="spacingAndGlyphs">MYULA(1.0)</text>
</g>
</svg></body></html>
